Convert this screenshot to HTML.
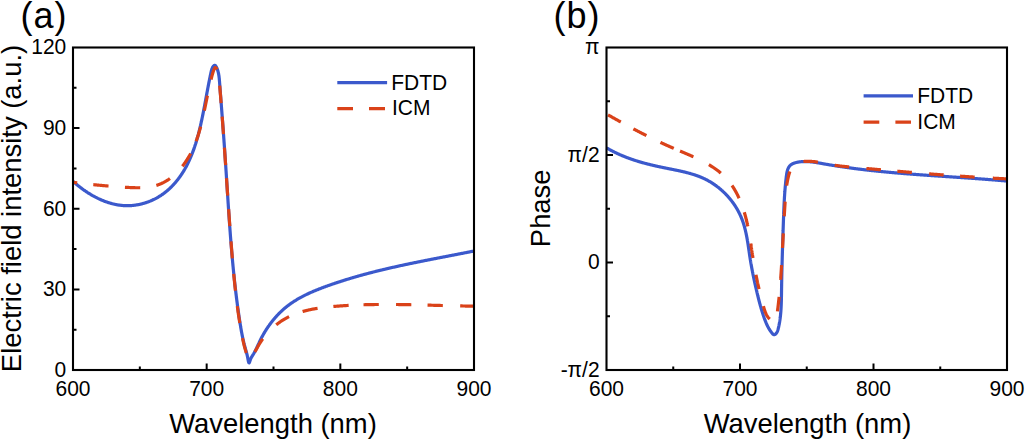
<!DOCTYPE html>
<html><head><meta charset="utf-8"><style>
html,body{margin:0;padding:0;background:#fff;}
svg{display:block;}
text{font-family:"Liberation Sans", sans-serif;fill:#000;}
.t{font-size:21px;}
.ti{font-size:27.4px;}
.pl{font-size:36px;}
.lg{font-size:21px;}
</style></head><body>
<svg width="1025" height="440" viewBox="0 0 1025 440">
<rect width="1025" height="440" fill="#fff"/>
<text x="20.5" y="28" class="pl" letter-spacing="1">(a)</text>
<g fill="none" stroke-linejoin="round">
<path d="M73.08 181.41 L73.47 181.76 L73.86 182.10 L74.26 182.45 L74.65 182.80 L75.05 183.14 L75.46 183.48 L75.86 183.83 L76.27 184.17 L76.68 184.51 L77.09 184.85 L77.50 185.18 L77.91 185.52 L78.33 185.85 L78.75 186.19 L79.17 186.52 L79.59 186.85 L80.02 187.18 L80.44 187.50 L80.87 187.83 L81.30 188.15 L81.74 188.48 L82.17 188.80 L82.61 189.11 L83.04 189.43 L83.48 189.75 L83.93 190.06 L84.37 190.37 L84.81 190.68 L85.26 190.99 L85.71 191.29 L86.16 191.59 L86.61 191.89 L87.07 192.19 L87.52 192.49 L87.98 192.78 L88.44 193.08 L88.90 193.37 L89.36 193.65 L89.83 193.94 L90.29 194.22 L90.76 194.50 L91.23 194.78 L91.70 195.05 L92.17 195.33 L92.64 195.60 L93.12 195.86 L93.60 196.13 L94.07 196.39 L94.55 196.65 L95.03 196.90 L95.51 197.16 L96.00 197.41 L96.48 197.65 L96.97 197.90 L97.46 198.14 L97.94 198.38 L98.43 198.61 L98.93 198.85 L99.42 199.08 L99.91 199.30 L100.41 199.52 L100.90 199.74 L101.40 199.96 L101.90 200.17 L102.40 200.38 L102.90 200.59 L103.40 200.79 L103.91 200.99 L104.41 201.19 L104.91 201.38 L105.42 201.57 L105.93 201.75 L106.44 201.93 L106.95 202.11 L107.46 202.28 L107.97 202.45 L108.48 202.62 L108.99 202.78 L109.51 202.94 L110.02 203.09 L110.54 203.24 L111.06 203.39 L111.57 203.53 L112.09 203.67 L112.61 203.80 L113.13 203.93 L113.65 204.06 L114.17 204.18 L114.70 204.29 L115.22 204.41 L115.74 204.51 L116.27 204.62 L116.79 204.72 L117.32 204.81 L117.85 204.90 L118.37 204.99 L118.90 205.07 L119.43 205.14 L119.96 205.21 L120.49 205.28 L121.02 205.34 L121.55 205.40 L122.08 205.45 L122.61 205.50 L123.15 205.54 L123.68 205.58 L124.21 205.61 L124.75 205.64 L125.28 205.66 L125.81 205.68 L126.35 205.69 L126.88 205.70 L127.42 205.70 L127.95 205.70 L128.49 205.69 L129.03 205.68 L129.56 205.66 L130.10 205.63 L130.64 205.60 L131.17 205.57 L131.71 205.53 L132.25 205.48 L132.78 205.43 L133.32 205.38 L133.85 205.32 L134.39 205.26 L134.93 205.19 L135.46 205.11 L135.99 205.03 L136.53 204.95 L137.06 204.86 L137.60 204.77 L138.13 204.67 L138.66 204.56 L139.19 204.45 L139.72 204.34 L140.25 204.22 L140.78 204.10 L141.31 203.97 L141.83 203.84 L142.36 203.71 L142.88 203.56 L143.41 203.42 L143.93 203.27 L144.45 203.11 L144.97 202.95 L145.49 202.79 L146.01 202.62 L146.52 202.45 L147.04 202.27 L147.55 202.09 L148.06 201.90 L148.57 201.71 L149.08 201.52 L149.58 201.32 L150.09 201.11 L150.59 200.91 L151.09 200.69 L151.59 200.48 L152.09 200.26 L152.58 200.03 L153.08 199.80 L153.57 199.57 L154.06 199.33 L154.54 199.09 L155.03 198.85 L155.51 198.60 L155.99 198.34 L156.47 198.09 L156.94 197.83 L157.42 197.56 L157.89 197.29 L158.35 197.02 L158.82 196.74 L159.28 196.46 L159.74 196.17 L160.20 195.88 L160.65 195.59 L161.10 195.30 L161.55 194.99 L161.99 194.69 L162.44 194.38 L162.88 194.07 L163.31 193.76 L163.75 193.44 L164.18 193.12 L164.61 192.79 L165.03 192.46 L165.46 192.13 L165.88 191.79 L166.29 191.46 L166.71 191.11 L167.12 190.77 L167.53 190.42 L167.93 190.07 L168.34 189.71 L168.74 189.35 L169.13 188.99 L169.53 188.63 L169.92 188.26 L170.31 187.89 L170.70 187.52 L171.08 187.14 L171.46 186.76 L171.84 186.38 L172.21 186.00 L172.59 185.61 L172.96 185.22 L173.32 184.83 L173.69 184.43 L174.05 184.03 L174.41 183.63 L174.76 183.23 L175.12 182.82 L175.47 182.42 L175.82 182.01 L176.16 181.59 L176.50 181.18 L176.84 180.76 L177.18 180.34 L177.51 179.92 L177.85 179.50 L178.17 179.07 L178.50 178.64 L178.82 178.21 L179.14 177.78 L179.46 177.35 L179.78 176.91 L180.09 176.47 L180.40 176.03 L180.71 175.59 L181.01 175.15 L181.31 174.70 L181.61 174.26 L181.91 173.81 L182.20 173.36 L182.49 172.91 L182.78 172.45 L183.06 172.00 L183.35 171.54 L183.63 171.08 L183.90 170.62 L184.18 170.16 L184.45 169.70 L184.72 169.23 L184.99 168.77 L185.25 168.30 L185.51 167.83 L185.77 167.36 L186.03 166.89 L186.29 166.42 L186.54 165.94 L186.79 165.47 L187.04 164.99 L187.28 164.51 L187.53 164.03 L187.77 163.55 L188.01 163.07 L188.24 162.59 L188.48 162.10 L188.71 161.62 L188.94 161.13 L189.16 160.64 L189.39 160.15 L189.61 159.66 L189.83 159.17 L190.05 158.68 L190.27 158.19 L190.48 157.69 L190.70 157.20 L190.91 156.70 L191.11 156.20 L191.32 155.70 L191.53 155.20 L191.73 154.70 L191.93 154.20 L192.13 153.70 L192.32 153.19 L192.52 152.69 L192.71 152.18 L192.90 151.68 L193.09 151.17 L193.28 150.66 L193.46 150.16 L193.65 149.65 L193.83 149.14 L194.01 148.62 L194.19 148.11 L194.36 147.60 L194.54 147.09 L194.71 146.57 L194.88 146.06 L195.05 145.54 L195.22 145.03 L195.39 144.51 L195.55 143.99 L195.72 143.48 L195.88 142.96 L196.04 142.44 L196.20 141.92 L196.36 141.40 L196.51 140.88 L196.67 140.36 L196.82 139.84 L196.97 139.32 L197.12 138.80 L197.27 138.27 L197.42 137.75 L197.56 137.23 L197.71 136.70 L197.85 136.18 L197.99 135.65 L198.14 135.13 L198.28 134.61 L198.41 134.08 L198.55 133.55 L198.69 133.03 L198.82 132.50 L198.96 131.98 L199.09 131.45 L199.22 130.92 L199.35 130.40 L199.48 129.87 L199.61 129.34 L199.73 128.82 L199.86 128.29 L199.99 127.76 L200.11 127.24 L200.23 126.71 L200.35 126.18 L200.48 125.66 L200.60 125.13 L200.72 124.60 L200.83 124.07 L200.95 123.55 L201.07 123.02 L201.18 122.49 L201.30 121.97 L201.41 121.44 L201.53 120.91 L201.64 120.39 L201.75 119.86 L201.86 119.34 L201.97 118.81 L202.08 118.29 L202.19 117.76 L202.30 117.24 L202.41 116.71 L202.52 116.19 L202.62 115.66 L202.73 115.14 L202.84 114.61 L202.94 114.09 L203.05 113.57 L203.15 113.04 L203.25 112.52 L203.36 111.99 L203.46 111.47 L203.56 110.95 L203.66 110.42 L203.77 109.90 L203.87 109.37 L203.97 108.85 L204.07 108.33 L204.17 107.80 L204.27 107.28 L204.37 106.76 L204.47 106.23 L204.57 105.71 L204.67 105.18 L204.76 104.66 L204.86 104.13 L204.96 103.61 L205.06 103.09 L205.16 102.56 L205.25 102.04 L205.35 101.51 L205.45 100.99 L205.55 100.46 L205.64 99.93 L205.74 99.41 L205.84 98.88 L205.94 98.36 L206.03 97.83 L206.13 97.30 L206.23 96.78 L206.33 96.25 L206.42 95.72 L206.52 95.19 L206.62 94.66 L206.72 94.14 L206.82 93.61 L206.91 93.08 L207.01 92.55 L207.11 92.02 L207.21 91.49 L207.31 90.96 L207.41 90.43 L207.51 89.89 L207.61 89.36 L207.71 88.83 L207.81 88.30 L207.91 87.76 L208.01 87.23 L208.11 86.70 L208.22 86.16 L208.32 85.63 L208.42 85.09 L208.53 84.55 L208.63 84.02 L208.73 83.48 L208.84 82.94 L208.94 82.40 L209.05 81.86 L209.16 81.32 L209.26 80.78 L209.37 80.24 L209.48 79.70 L209.59 79.16 L209.70 78.62 L209.81 78.07 L209.92 77.53 L210.03 76.98 L210.15 76.44 L210.26 75.89 L210.37 75.35 L210.49 74.80 L210.61 74.25 L210.72 73.70 L210.84 73.15 L210.96 72.60 L211.08 72.05 L211.20 71.50 L211.34 70.95 L211.48 70.41 L211.63 69.88 L211.80 69.35 L211.98 68.83 L212.18 68.33 L212.40 67.83 L212.65 67.35 L212.91 66.88 L213.20 66.45 L213.51 66.06 L213.82 65.74 L214.14 65.50 L214.46 65.35 L214.78 65.32 L215.09 65.42 L215.38 65.63 L215.67 65.94 L215.94 66.32 L216.21 66.75 L216.45 67.23 L216.69 67.72 L216.91 68.22 L217.12 68.72 L217.32 69.23 L217.50 69.74 L217.68 70.25 L217.84 70.76 L217.99 71.28 L218.13 71.80 L218.26 72.32 L218.39 72.85 L218.50 73.37 L218.60 73.90 L218.70 74.43 L218.79 74.96 L218.88 75.49 L218.95 76.03 L219.03 76.56 L219.09 77.10 L219.15 77.64 L219.21 78.18 L219.27 78.72 L219.32 79.26 L219.37 79.80 L219.41 80.34 L219.46 80.88 L219.50 81.43 L219.54 81.97 L219.58 82.51 L219.63 83.05 L219.67 83.59 L219.71 84.14 L219.75 84.68 L219.79 85.22 L219.84 85.76 L219.88 86.30 L219.92 86.85 L219.96 87.39 L220.00 87.93 L220.04 88.47 L220.09 89.01 L220.13 89.55 L220.17 90.09 L220.21 90.64 L220.25 91.18 L220.30 91.72 L220.34 92.26 L220.38 92.80 L220.42 93.34 L220.46 93.88 L220.50 94.42 L220.55 94.96 L220.59 95.50 L220.63 96.04 L220.67 96.58 L220.71 97.12 L220.76 97.67 L220.80 98.21 L220.84 98.75 L220.88 99.29 L220.92 99.83 L220.96 100.37 L221.00 100.91 L221.05 101.45 L221.09 101.99 L221.13 102.53 L221.17 103.07 L221.21 103.61 L221.25 104.14 L221.29 104.68 L221.34 105.22 L221.38 105.76 L221.42 106.30 L221.46 106.84 L221.50 107.38 L221.54 107.92 L221.58 108.46 L221.62 109.00 L221.67 109.54 L221.71 110.08 L221.75 110.62 L221.79 111.16 L221.83 111.69 L221.87 112.23 L221.91 112.77 L221.95 113.31 L221.99 113.85 L222.03 114.39 L222.07 114.93 L222.12 115.47 L222.16 116.00 L222.20 116.54 L222.24 117.08 L222.28 117.62 L222.32 118.16 L222.36 118.70 L222.40 119.24 L222.44 119.77 L222.48 120.31 L222.52 120.85 L222.56 121.39 L222.60 121.93 L222.64 122.47 L222.68 123.00 L222.72 123.54 L222.76 124.08 L222.80 124.62 L222.84 125.16 L222.88 125.69 L222.92 126.23 L222.96 126.77 L223.00 127.31 L223.04 127.85 L223.08 128.38 L223.12 128.92 L223.16 129.46 L223.20 130.00 L223.24 130.54 L223.28 131.07 L223.32 131.61 L223.36 132.15 L223.40 132.69 L223.44 133.22 L223.48 133.76 L223.52 134.30 L223.56 134.84 L223.60 135.37 L223.63 135.91 L223.67 136.45 L223.71 136.99 L223.75 137.53 L223.79 138.06 L223.83 138.60 L223.87 139.14 L223.91 139.68 L223.95 140.21 L223.98 140.75 L224.02 141.29 L224.06 141.83 L224.10 142.36 L224.14 142.90 L224.18 143.44 L224.21 143.98 L224.25 144.51 L224.29 145.05 L224.33 145.59 L224.37 146.13 L224.41 146.66 L224.44 147.20 L224.48 147.74 L224.52 148.28 L224.56 148.81 L224.59 149.35 L224.63 149.89 L224.67 150.43 L224.71 150.96 L224.74 151.50 L224.78 152.04 L224.82 152.58 L224.86 153.11 L224.89 153.65 L224.93 154.19 L224.97 154.73 L225.01 155.26 L225.04 155.80 L225.08 156.34 L225.12 156.88 L225.15 157.41 L225.19 157.95 L225.23 158.49 L225.26 159.03 L225.30 159.56 L225.34 160.10 L225.37 160.64 L225.41 161.18 L225.44 161.71 L225.48 162.25 L225.52 162.79 L225.55 163.33 L225.59 163.86 L225.62 164.40 L225.66 164.94 L225.70 165.48 L225.73 166.02 L225.77 166.55 L225.80 167.09 L225.84 167.63 L225.87 168.17 L225.91 168.71 L225.94 169.24 L225.98 169.78 L226.02 170.32 L226.05 170.86 L226.09 171.39 L226.12 171.93 L226.16 172.47 L226.19 173.01 L226.23 173.55 L226.26 174.08 L226.30 174.62 L226.33 175.16 L226.37 175.70 L226.40 176.24 L226.44 176.77 L226.47 177.31 L226.51 177.85 L226.54 178.39 L226.58 178.93 L226.61 179.46 L226.64 180.00 L226.68 180.54 L226.71 181.08 L226.75 181.62 L226.78 182.16 L226.82 182.69 L226.85 183.23 L226.89 183.77 L226.92 184.31 L226.96 184.85 L226.99 185.38 L227.03 185.92 L227.06 186.46 L227.10 187.00 L227.13 187.54 L227.17 188.07 L227.20 188.61 L227.23 189.15 L227.27 189.69 L227.30 190.23 L227.34 190.77 L227.37 191.30 L227.41 191.84 L227.44 192.38 L227.48 192.92 L227.51 193.46 L227.55 194.00 L227.58 194.53 L227.62 195.07 L227.65 195.61 L227.69 196.15 L227.72 196.69 L227.76 197.23 L227.79 197.76 L227.83 198.30 L227.86 198.84 L227.90 199.38 L227.93 199.92 L227.97 200.45 L228.00 200.99 L228.04 201.53 L228.07 202.07 L228.11 202.61 L228.14 203.15 L228.18 203.68 L228.22 204.22 L228.25 204.76 L228.29 205.30 L228.32 205.84 L228.36 206.38 L228.39 206.91 L228.43 207.45 L228.47 207.99 L228.50 208.53 L228.54 209.07 L228.57 209.61 L228.61 210.14 L228.65 210.68 L228.68 211.22 L228.72 211.76 L228.76 212.30 L228.79 212.84 L228.83 213.37 L228.87 213.91 L228.90 214.45 L228.94 214.99 L228.98 215.53 L229.01 216.07 L229.05 216.60 L229.09 217.14 L229.13 217.68 L229.16 218.22 L229.20 218.76 L229.24 219.30 L229.28 219.83 L229.31 220.37 L229.35 220.91 L229.39 221.45 L229.43 221.99 L229.46 222.52 L229.50 223.06 L229.54 223.60 L229.58 224.14 L229.62 224.68 L229.66 225.22 L229.70 225.75 L229.73 226.29 L229.77 226.83 L229.81 227.37 L229.85 227.91 L229.89 228.45 L229.93 228.98 L229.97 229.52 L230.01 230.06 L230.05 230.60 L230.09 231.14 L230.13 231.67 L230.17 232.21 L230.21 232.75 L230.25 233.29 L230.29 233.83 L230.33 234.36 L230.37 234.90 L230.41 235.44 L230.46 235.98 L230.50 236.52 L230.54 237.06 L230.58 237.59 L230.62 238.13 L230.66 238.67 L230.70 239.21 L230.75 239.75 L230.79 240.28 L230.83 240.82 L230.87 241.36 L230.92 241.90 L230.96 242.44 L231.00 242.97 L231.05 243.51 L231.09 244.05 L231.13 244.59 L231.18 245.12 L231.22 245.66 L231.26 246.20 L231.31 246.74 L231.35 247.28 L231.40 247.81 L231.44 248.35 L231.49 248.89 L231.53 249.43 L231.58 249.97 L231.62 250.50 L231.67 251.04 L231.71 251.58 L231.76 252.12 L231.81 252.65 L231.85 253.19 L231.90 253.73 L231.95 254.27 L231.99 254.80 L232.04 255.34 L232.09 255.88 L232.13 256.42 L232.18 256.96 L232.23 257.49 L232.28 258.03 L232.33 258.57 L232.37 259.11 L232.42 259.64 L232.47 260.18 L232.52 260.72 L232.57 261.26 L232.62 261.79 L232.67 262.33 L232.72 262.87 L232.77 263.41 L232.82 263.94 L232.87 264.48 L232.92 265.02 L232.97 265.55 L233.02 266.09 L233.07 266.63 L233.13 267.17 L233.18 267.70 L233.23 268.24 L233.28 268.78 L233.34 269.32 L233.39 269.85 L233.44 270.39 L233.49 270.93 L233.55 271.46 L233.60 272.00 L233.66 272.54 L233.71 273.08 L233.76 273.61 L233.82 274.15 L233.87 274.69 L233.93 275.22 L233.98 275.76 L234.04 276.30 L234.10 276.83 L234.15 277.37 L234.21 277.91 L234.27 278.44 L234.32 278.98 L234.38 279.52 L234.44 280.06 L234.49 280.59 L234.55 281.13 L234.61 281.67 L234.67 282.20 L234.73 282.74 L234.79 283.28 L234.85 283.81 L234.91 284.35 L234.97 284.88 L235.03 285.42 L235.09 285.96 L235.15 286.49 L235.21 287.03 L235.27 287.57 L235.33 288.10 L235.39 288.64 L235.46 289.18 L235.52 289.71 L235.58 290.25 L235.64 290.79 L235.71 291.32 L235.77 291.86 L235.83 292.39 L235.90 292.93 L235.96 293.47 L236.03 294.00 L236.09 294.54 L236.16 295.07 L236.22 295.61 L236.29 296.15 L236.36 296.68 L236.42 297.22 L236.49 297.75 L236.56 298.29 L236.62 298.83 L236.69 299.36 L236.76 299.90 L236.83 300.43 L236.90 300.97 L236.97 301.51 L237.04 302.04 L237.11 302.58 L237.18 303.11 L237.25 303.65 L237.32 304.18 L237.39 304.72 L237.46 305.25 L237.53 305.79 L237.60 306.33 L237.67 306.86 L237.75 307.40 L237.82 307.93 L237.89 308.47 L237.97 309.00 L238.04 309.54 L238.12 310.07 L238.19 310.61 L238.27 311.14 L238.34 311.68 L238.42 312.21 L238.49 312.75 L238.57 313.28 L238.65 313.82 L238.72 314.35 L238.80 314.89 L238.88 315.42 L238.96 315.96 L239.04 316.49 L239.11 317.03 L239.19 317.56 L239.27 318.10 L239.35 318.63 L239.43 319.17 L239.52 319.70 L239.60 320.24 L239.68 320.77 L239.76 321.30 L239.84 321.84 L239.93 322.37 L240.01 322.91 L240.09 323.44 L240.18 323.97 L240.27 324.51 L240.35 325.04 L240.44 325.57 L240.53 326.11 L240.62 326.64 L240.70 327.17 L240.80 327.70 L240.89 328.23 L240.98 328.76 L241.07 329.29 L241.16 329.82 L241.26 330.35 L241.35 330.88 L241.45 331.41 L241.55 331.94 L241.65 332.47 L241.75 333.00 L241.85 333.53 L241.95 334.05 L242.05 334.58 L242.16 335.10 L242.26 335.63 L242.37 336.15 L242.47 336.68 L242.58 337.20 L242.69 337.72 L242.80 338.25 L242.92 338.77 L243.03 339.29 L243.15 339.81 L243.26 340.33 L243.38 340.85 L243.50 341.37 L243.62 341.88 L243.75 342.40 L243.87 342.92 L244.00 343.43 L244.13 343.95 L244.25 344.46 L244.39 344.97 L244.52 345.48 L244.65 345.99 L244.79 346.50 L244.93 347.01 L245.07 347.52 L245.21 348.03 L245.35 348.54 L245.50 349.04 L245.64 349.55 L245.79 350.06 L245.94 350.57 L246.09 351.08 L246.24 351.61 L246.38 352.14 L246.53 352.68 L246.68 353.23 L246.83 353.80 L246.97 354.38 L247.11 354.97 L247.25 355.58 L247.39 356.22 L247.53 356.87 L247.66 357.54 L247.79 358.21 L247.91 358.89 L248.04 359.55 L248.16 360.18 L248.28 360.78 L248.41 361.32 L248.53 361.80 L248.65 362.21 L248.77 362.54 L248.89 362.76 L249.01 362.88 L249.14 362.88 L249.26 362.75 L249.40 362.50 L249.53 362.16 L249.68 361.74 L249.84 361.25 L250.01 360.72 L250.20 360.15 L250.40 359.56 L250.62 358.98 L250.87 358.41 L251.14 357.87 L251.42 357.35 L251.72 356.85 L252.03 356.36 L252.34 355.88 L252.64 355.41 L252.95 354.93 L253.24 354.46 L253.53 353.99 L253.81 353.51 L254.09 353.03 L254.36 352.55 L254.62 352.07 L254.88 351.59 L255.13 351.11 L255.38 350.63 L255.62 350.14 L255.86 349.66 L256.10 349.17 L256.33 348.69 L256.56 348.20 L256.79 347.72 L257.01 347.23 L257.23 346.74 L257.46 346.26 L257.68 345.77 L257.90 345.28 L258.12 344.80 L258.34 344.31 L258.56 343.83 L258.78 343.34 L259.01 342.86 L259.23 342.37 L259.46 341.89 L259.69 341.41 L259.92 340.92 L260.16 340.44 L260.40 339.96 L260.64 339.48 L260.88 339.00 L261.12 338.53 L261.37 338.05 L261.62 337.57 L261.87 337.10 L262.13 336.62 L262.38 336.15 L262.64 335.68 L262.90 335.21 L263.17 334.74 L263.44 334.27 L263.70 333.80 L263.98 333.33 L264.25 332.87 L264.53 332.41 L264.81 331.94 L265.09 331.48 L265.37 331.02 L265.66 330.56 L265.94 330.10 L266.23 329.65 L266.53 329.19 L266.82 328.74 L267.12 328.29 L267.42 327.84 L267.72 327.39 L268.03 326.94 L268.34 326.49 L268.64 326.05 L268.96 325.61 L269.27 325.16 L269.59 324.72 L269.90 324.29 L270.23 323.85 L270.55 323.42 L270.87 322.98 L271.20 322.55 L271.53 322.12 L271.86 321.70 L272.20 321.27 L272.54 320.85 L272.88 320.43 L273.22 320.01 L273.56 319.59 L273.91 319.17 L274.25 318.76 L274.60 318.35 L274.96 317.94 L275.31 317.53 L275.67 317.12 L276.03 316.72 L276.39 316.32 L276.75 315.92 L277.12 315.52 L277.49 315.13 L277.86 314.74 L278.23 314.35 L278.60 313.96 L278.98 313.58 L279.36 313.19 L279.74 312.81 L280.12 312.43 L280.51 312.06 L280.90 311.69 L281.29 311.31 L281.68 310.95 L282.07 310.58 L282.47 310.22 L282.87 309.86 L283.27 309.50 L283.67 309.15 L284.07 308.79 L284.48 308.44 L284.89 308.10 L285.30 307.75 L285.71 307.41 L286.13 307.07 L286.54 306.74 L286.96 306.41 L287.38 306.08 L287.81 305.75 L288.23 305.42 L288.66 305.10 L289.09 304.78 L289.52 304.47 L289.95 304.15 L290.39 303.84 L290.82 303.53 L291.26 303.23 L291.70 302.92 L292.14 302.62 L292.59 302.33 L293.03 302.03 L293.48 301.74 L293.93 301.44 L294.38 301.16 L294.83 300.87 L295.29 300.59 L295.74 300.30 L296.20 300.03 L296.66 299.75 L297.12 299.47 L297.58 299.20 L298.04 298.93 L298.51 298.66 L298.97 298.40 L299.44 298.13 L299.91 297.87 L300.38 297.61 L300.85 297.35 L301.32 297.10 L301.80 296.85 L302.27 296.59 L302.75 296.34 L303.23 296.10 L303.71 295.85 L304.19 295.61 L304.67 295.37 L305.15 295.13 L305.64 294.89 L306.12 294.65 L306.61 294.42 L307.09 294.18 L307.58 293.95 L308.07 293.72 L308.56 293.49 L309.05 293.27 L309.55 293.04 L310.04 292.82 L310.53 292.60 L311.03 292.38 L311.52 292.16 L312.02 291.94 L312.52 291.73 L313.01 291.51 L313.51 291.30 L314.01 291.09 L314.51 290.88 L315.02 290.67 L315.52 290.46 L316.02 290.25 L316.52 290.05 L317.03 289.85 L317.53 289.64 L318.04 289.44 L318.54 289.24 L319.05 289.04 L319.55 288.84 L320.06 288.65 L320.57 288.45 L321.08 288.26 L321.58 288.06 L322.09 287.87 L322.60 287.68 L323.11 287.49 L323.62 287.30 L324.13 287.11 L324.64 286.92 L325.15 286.73 L325.66 286.55 L326.17 286.36 L326.68 286.18 L327.19 285.99 L327.71 285.81 L328.22 285.62 L328.73 285.44 L329.24 285.26 L329.75 285.08 L330.26 284.90 L330.78 284.72 L331.29 284.54 L331.80 284.36 L332.31 284.19 L332.83 284.01 L333.34 283.83 L333.85 283.66 L334.37 283.48 L334.88 283.31 L335.39 283.14 L335.91 282.96 L336.42 282.79 L336.93 282.62 L337.45 282.45 L337.96 282.28 L338.48 282.11 L338.99 281.94 L339.50 281.77 L340.02 281.61 L340.53 281.44 L341.05 281.27 L341.56 281.11 L342.08 280.94 L342.59 280.78 L343.11 280.62 L343.62 280.45 L344.14 280.29 L344.66 280.13 L345.17 279.97 L345.69 279.81 L346.20 279.65 L346.72 279.49 L347.24 279.33 L347.75 279.17 L348.27 279.01 L348.79 278.86 L349.30 278.70 L349.82 278.54 L350.34 278.39 L350.85 278.23 L351.37 278.08 L351.89 277.93 L352.40 277.77 L352.92 277.62 L353.44 277.47 L353.96 277.32 L354.48 277.17 L354.99 277.02 L355.51 276.87 L356.03 276.72 L356.55 276.57 L357.07 276.42 L357.59 276.27 L358.10 276.12 L358.62 275.98 L359.14 275.83 L359.66 275.69 L360.18 275.54 L360.70 275.40 L361.22 275.25 L361.74 275.11 L362.26 274.97 L362.78 274.82 L363.30 274.68 L363.82 274.54 L364.34 274.40 L364.86 274.26 L365.38 274.12 L365.90 273.98 L366.42 273.84 L366.94 273.70 L367.46 273.56 L367.98 273.43 L368.50 273.29 L369.02 273.15 L369.54 273.02 L370.06 272.88 L370.59 272.74 L371.11 272.61 L371.63 272.48 L372.15 272.34 L372.67 272.21 L373.19 272.07 L373.72 271.94 L374.24 271.81 L374.76 271.68 L375.28 271.55 L375.80 271.42 L376.33 271.29 L376.85 271.15 L377.37 271.03 L377.89 270.90 L378.42 270.77 L378.94 270.64 L379.46 270.51 L379.98 270.38 L380.51 270.26 L381.03 270.13 L381.55 270.00 L382.08 269.88 L382.60 269.75 L383.12 269.62 L383.65 269.50 L384.17 269.37 L384.69 269.25 L385.22 269.13 L385.74 269.00 L386.27 268.88 L386.79 268.76 L387.31 268.63 L387.84 268.51 L388.36 268.39 L388.89 268.27 L389.41 268.15 L389.94 268.03 L390.46 267.91 L390.99 267.79 L391.51 267.67 L392.04 267.55 L392.56 267.43 L393.09 267.31 L393.61 267.19 L394.14 267.07 L394.66 266.96 L395.19 266.84 L395.71 266.72 L396.24 266.60 L396.76 266.49 L397.29 266.37 L397.81 266.25 L398.34 266.14 L398.87 266.02 L399.39 265.91 L399.92 265.79 L400.44 265.68 L400.97 265.56 L401.50 265.45 L402.02 265.34 L402.55 265.22 L403.08 265.11 L403.60 265.00 L404.13 264.88 L404.65 264.77 L405.18 264.66 L405.71 264.55 L406.23 264.43 L406.76 264.32 L407.29 264.21 L407.82 264.10 L408.34 263.99 L408.87 263.88 L409.40 263.77 L409.92 263.66 L410.45 263.55 L410.98 263.44 L411.51 263.33 L412.03 263.22 L412.56 263.11 L413.09 263.00 L413.62 262.89 L414.14 262.78 L414.67 262.68 L415.20 262.57 L415.73 262.46 L416.26 262.35 L416.78 262.24 L417.31 262.14 L417.84 262.03 L418.37 261.92 L418.90 261.82 L419.43 261.71 L419.95 261.60 L420.48 261.50 L421.01 261.39 L421.54 261.28 L422.07 261.18 L422.60 261.07 L423.12 260.97 L423.65 260.86 L424.18 260.75 L424.71 260.65 L425.24 260.54 L425.77 260.44 L426.30 260.33 L426.83 260.23 L427.36 260.13 L427.88 260.02 L428.41 259.92 L428.94 259.81 L429.47 259.71 L430.00 259.60 L430.53 259.50 L431.06 259.40 L431.59 259.29 L432.12 259.19 L432.65 259.08 L433.18 258.98 L433.71 258.88 L434.24 258.77 L434.77 258.67 L435.30 258.57 L435.83 258.46 L436.36 258.36 L436.89 258.26 L437.42 258.15 L437.95 258.05 L438.48 257.95 L439.01 257.85 L439.54 257.74 L440.07 257.64 L440.60 257.54 L441.13 257.43 L441.66 257.33 L442.19 257.23 L442.72 257.13 L443.25 257.02 L443.78 256.92 L444.31 256.82 L444.84 256.72 L445.37 256.61 L445.90 256.51 L446.43 256.41 L446.96 256.31 L447.49 256.20 L448.02 256.10 L448.55 256.00 L449.08 255.90 L449.61 255.79 L450.14 255.69 L450.67 255.59 L451.20 255.49 L451.73 255.38 L452.26 255.28 L452.79 255.18 L453.32 255.08 L453.86 254.97 L454.39 254.87 L454.92 254.77 L455.45 254.66 L455.98 254.56 L456.51 254.46 L457.04 254.35 L457.57 254.25 L458.10 254.15 L458.63 254.05 L459.16 253.94 L459.69 253.84 L460.23 253.74 L460.76 253.63 L461.29 253.53 L461.82 253.42 L462.35 253.32 L462.88 253.22 L463.41 253.11 L463.94 253.01 L464.47 252.90 L465.00 252.80 L465.54 252.70 L466.07 252.59 L466.60 252.49 L467.13 252.38 L467.66 252.28 L468.19 252.17 L468.72 252.07 L469.25 251.96 L469.79 251.86 L470.32 251.75 L470.85 251.65 L471.38 251.54 L471.91 251.43 L472.44 251.33 L472.97 251.22 L473.50 251.12 L474.03 251.01" stroke="#3b59cc" stroke-width="3.2"/>
<path d="M72.86 182.27 L73.39 182.33 L73.91 182.40 L74.44 182.47 L74.96 182.53 L75.49 182.60 L76.01 182.66 L76.53 182.73 L77.05 182.79 L77.57 182.86 L78.09 182.92 L78.61 182.98 L79.13 183.05 L79.64 183.11 L80.16 183.17 L80.67 183.23 L81.18 183.29 L81.70 183.35 L82.21 183.41 L82.72 183.47 L83.23 183.53 L83.74 183.59 L84.24 183.65 L84.75 183.71 L85.26 183.77 L85.77 183.82 L86.27 183.88 L86.78 183.94 L87.28 183.99 L87.78 184.05 L88.29 184.11 L88.79 184.16 L89.29 184.22 L89.79 184.27 L90.30 184.32 L90.80 184.38 L91.30 184.43 L91.80 184.48 L92.30 184.54 L92.80 184.59 L93.30 184.64 L93.79 184.69 L94.29 184.74 L94.79 184.79 L95.29 184.84 L95.78 184.89 L96.28 184.94 L96.78 184.99 L97.28 185.04 L97.77 185.09 L98.27 185.14 L98.77 185.18 L99.26 185.23 L99.76 185.28 L100.25 185.33 L100.75 185.37 L101.25 185.42 L101.74 185.46 L102.24 185.51 L102.73 185.56 L103.23 185.60 L103.73 185.64 L104.22 185.69 L104.72 185.73 L105.22 185.78 L105.71 185.82 L106.21 185.86 L106.71 185.91 L107.21 185.95 L107.70 185.99 L108.20 186.03 L108.70 186.07 L109.20 186.11 L109.70 186.15 L110.20 186.19 L110.70 186.23 L111.20 186.27 L111.70 186.31 L112.20 186.35 L112.70 186.39 L113.20 186.43 L113.70 186.47 L114.21 186.51 L114.71 186.55 L115.22 186.58 L115.72 186.62 L116.23 186.66 L116.73 186.69 L117.24 186.73 L117.75 186.77 L118.25 186.80 L118.76 186.84 L119.27 186.87 L119.78 186.91 L120.29 186.94 L120.81 186.98 L121.32 187.01 L121.83 187.05 L122.35 187.08 L122.86 187.12 L123.38 187.15 L123.89 187.18 L124.41 187.22 L124.93 187.25 L125.45 187.28 L125.97 187.31 L126.49 187.34 L127.02 187.38 L127.54 187.41 L128.06 187.44 L128.59 187.46 L129.11 187.49 L129.64 187.52 L130.17 187.55 L130.69 187.57 L131.22 187.59 L131.75 187.62 L132.27 187.64 L132.80 187.66 L133.33 187.67 L133.86 187.69 L134.39 187.71 L134.91 187.72 L135.44 187.73 L135.97 187.74 L136.50 187.74 L137.02 187.75 L137.55 187.75 L138.08 187.75 L138.61 187.75 L139.13 187.74 L139.66 187.73 L140.18 187.72 L140.71 187.71 L141.23 187.69 L141.75 187.67 L142.28 187.65 L142.80 187.62 L143.32 187.60 L143.84 187.56 L144.36 187.53 L144.87 187.49 L145.39 187.45 L145.91 187.40 L146.42 187.35 L146.93 187.30 L147.45 187.24 L147.96 187.18 L148.47 187.11 L148.97 187.04 L149.48 186.96 L149.98 186.89 L150.49 186.80 L150.99 186.71 L151.49 186.62 L151.99 186.52 L152.48 186.42 L152.98 186.31 L153.47 186.20 L153.96 186.09 L154.45 185.96 L154.93 185.84 L155.42 185.70 L155.90 185.56 L156.38 185.42 L156.86 185.27 L157.33 185.12 L157.80 184.96 L158.27 184.79 L158.74 184.62 L159.21 184.44 L159.67 184.26 L160.13 184.07 L160.59 183.88 L161.05 183.68 L161.50 183.48 L161.95 183.27 L162.40 183.06 L162.85 182.84 L163.29 182.61 L163.73 182.39 L164.17 182.15 L164.61 181.92 L165.04 181.67 L165.48 181.43 L165.91 181.17 L166.33 180.92 L166.76 180.66 L167.18 180.39 L167.60 180.12 L168.02 179.85 L168.43 179.57 L168.85 179.29 L169.26 179.00 L169.66 178.71 L170.07 178.41 L170.47 178.12 L170.87 177.81 L171.27 177.50 L171.67 177.19 L172.06 176.88 L172.45 176.56 L172.84 176.24 L173.23 175.91 L173.61 175.58 L173.99 175.25 L174.37 174.91 L174.74 174.57 L175.12 174.23 L175.49 173.88 L175.86 173.53 L176.22 173.17 L176.58 172.82 L176.94 172.45 L177.30 172.09 L177.66 171.72 L178.01 171.35 L178.36 170.98 L178.71 170.61 L179.05 170.23 L179.40 169.84 L179.74 169.46 L180.08 169.07 L180.41 168.68 L180.74 168.29 L181.07 167.90 L181.40 167.50 L181.72 167.10 L182.05 166.70 L182.37 166.29 L182.68 165.88 L183.00 165.47 L183.31 165.06 L183.62 164.65 L183.92 164.23 L184.23 163.81 L184.53 163.39 L184.83 162.97 L185.12 162.55 L185.42 162.12 L185.71 161.69 L186.00 161.26 L186.28 160.83 L186.56 160.40 L186.84 159.96 L187.12 159.53 L187.40 159.09 L187.67 158.65 L187.94 158.21 L188.20 157.77 L188.47 157.32 L188.73 156.88 L188.99 156.43 L189.24 155.98 L189.50 155.54 L189.75 155.09 L189.99 154.64 L190.24 154.19 L190.48 153.73 L190.72 153.28 L190.96 152.83 L191.19 152.37 L191.42 151.92 L191.65 151.46 L191.88 151.00 L192.10 150.54 L192.32 150.08 L192.54 149.62 L192.76 149.16 L192.97 148.70 L193.18 148.24 L193.39 147.77 L193.60 147.31 L193.81 146.84 L194.01 146.38 L194.21 145.91 L194.41 145.44 L194.60 144.97 L194.79 144.50 L194.99 144.03 L195.18 143.56 L195.36 143.09 L195.55 142.62 L195.73 142.15 L195.91 141.67 L196.09 141.20 L196.27 140.72 L196.44 140.25 L196.61 139.77 L196.79 139.29 L196.95 138.82 L197.12 138.34 L197.29 137.86 L197.45 137.38 L197.61 136.90 L197.77 136.42 L197.93 135.94 L198.09 135.45 L198.24 134.97 L198.40 134.49 L198.55 134.00 L198.70 133.52 L198.85 133.03 L198.99 132.55 L199.14 132.06 L199.28 131.58 L199.43 131.09 L199.57 130.60 L199.71 130.11 L199.85 129.62 L199.98 129.14 L200.12 128.65 L200.25 128.16 L200.39 127.67 L200.52 127.17 L200.65 126.68 L200.78 126.19 L200.91 125.70 L201.03 125.21 L201.16 124.71 L201.28 124.22 L201.41 123.73 L201.53 123.23 L201.65 122.74 L201.77 122.24 L201.89 121.75 L202.01 121.25 L202.13 120.75 L202.25 120.26 L202.36 119.76 L202.48 119.26 L202.59 118.77 L202.71 118.27 L202.82 117.77 L202.93 117.27 L203.04 116.77 L203.15 116.28 L203.26 115.78 L203.37 115.28 L203.48 114.78 L203.59 114.28 L203.70 113.78 L203.80 113.28 L203.91 112.78 L204.02 112.28 L204.12 111.78 L204.23 111.28 L204.33 110.77 L204.44 110.27 L204.54 109.77 L204.65 109.27 L204.75 108.77 L204.85 108.27 L204.96 107.77 L205.06 107.26 L205.16 106.76 L205.26 106.26 L205.37 105.76 L205.47 105.26 L205.57 104.75 L205.67 104.25 L205.77 103.75 L205.88 103.25 L205.98 102.74 L206.08 102.24 L206.18 101.74 L206.28 101.24 L206.39 100.73 L206.49 100.23 L206.59 99.73 L206.69 99.23 L206.80 98.73 L206.90 98.22 L207.00 97.72 L207.11 97.22 L207.21 96.72 L207.31 96.22 L207.42 95.72 L207.52 95.22 L207.62 94.72 L207.73 94.22 L207.83 93.72 L207.94 93.22 L208.04 92.72 L208.15 92.22 L208.25 91.73 L208.36 91.23 L208.47 90.73 L208.57 90.24 L208.68 89.74 L208.79 89.25 L208.90 88.75 L209.00 88.26 L209.11 87.77 L209.22 87.27 L209.33 86.78 L209.44 86.29 L209.55 85.80 L209.66 85.31 L209.78 84.82 L209.89 84.33 L210.00 83.85 L210.11 83.36 L210.23 82.87 L210.34 82.39 L210.46 81.91 L210.57 81.42 L210.69 80.94 L210.80 80.46 L210.92 79.98 L211.04 79.50 L211.16 79.02 L211.28 78.55 L211.40 78.07 L211.52 77.59 L211.64 77.11 L211.77 76.63 L211.90 76.13 L212.04 75.63 L212.18 75.12 L212.33 74.60 L212.48 74.06 L212.64 73.51 L212.81 72.95 L213.00 72.36 L213.19 71.75 L213.38 71.14 L213.59 70.54 L213.81 69.96 L214.03 69.41 L214.26 68.91 L214.50 68.47 L214.74 68.11 L214.98 67.84 L215.23 67.67 L215.48 67.62 L215.73 67.70 L215.98 67.90 L216.23 68.19 L216.47 68.58 L216.72 69.04 L216.95 69.56 L217.18 70.12 L217.39 70.72 L217.60 71.32 L217.79 71.93 L217.96 72.52 L218.12 73.11 L218.27 73.67 L218.41 74.23 L218.53 74.78 L218.64 75.31 L218.74 75.84 L218.83 76.36 L218.91 76.87 L218.99 77.37 L219.05 77.87 L219.11 78.36 L219.16 78.85 L219.21 79.33 L219.26 79.81 L219.30 80.29 L219.34 80.77 L219.37 81.24 L219.41 81.72 L219.44 82.20 L219.47 82.68 L219.51 83.16 L219.55 83.65 L219.58 84.14 L219.62 84.63 L219.66 85.12 L219.69 85.61 L219.73 86.11 L219.77 86.60 L219.81 87.10 L219.85 87.60 L219.89 88.10 L219.93 88.61 L219.97 89.11 L220.02 89.61 L220.06 90.12 L220.10 90.63 L220.14 91.13 L220.18 91.64 L220.22 92.15 L220.27 92.66 L220.31 93.17 L220.35 93.68 L220.39 94.19 L220.44 94.70 L220.48 95.21 L220.52 95.72 L220.56 96.23 L220.60 96.74 L220.65 97.25 L220.69 97.76 L220.73 98.27 L220.77 98.78 L220.81 99.29 L220.85 99.80 L220.89 100.31 L220.93 100.83 L220.98 101.34 L221.02 101.85 L221.06 102.36 L221.10 102.87 L221.14 103.38 L221.18 103.89 L221.22 104.40 L221.26 104.91 L221.30 105.42 L221.34 105.93 L221.38 106.44 L221.42 106.95 L221.46 107.45 L221.50 107.96 L221.54 108.47 L221.58 108.98 L221.62 109.49 L221.66 110.00 L221.70 110.51 L221.74 111.02 L221.78 111.53 L221.82 112.04 L221.86 112.55 L221.89 113.06 L221.93 113.57 L221.97 114.08 L222.01 114.59 L222.05 115.10 L222.09 115.61 L222.13 116.12 L222.17 116.63 L222.20 117.14 L222.24 117.65 L222.28 118.16 L222.32 118.67 L222.36 119.18 L222.40 119.68 L222.43 120.19 L222.47 120.70 L222.51 121.21 L222.55 121.72 L222.59 122.23 L222.62 122.74 L222.66 123.25 L222.70 123.76 L222.74 124.27 L222.77 124.78 L222.81 125.29 L222.85 125.80 L222.89 126.30 L222.92 126.81 L222.96 127.32 L223.00 127.83 L223.03 128.34 L223.07 128.85 L223.11 129.36 L223.15 129.87 L223.18 130.38 L223.22 130.89 L223.26 131.39 L223.29 131.90 L223.33 132.41 L223.37 132.92 L223.40 133.43 L223.44 133.94 L223.48 134.45 L223.51 134.96 L223.55 135.47 L223.58 135.97 L223.62 136.48 L223.66 136.99 L223.69 137.50 L223.73 138.01 L223.77 138.52 L223.80 139.03 L223.84 139.54 L223.87 140.04 L223.91 140.55 L223.95 141.06 L223.98 141.57 L224.02 142.08 L224.05 142.59 L224.09 143.10 L224.12 143.60 L224.16 144.11 L224.20 144.62 L224.23 145.13 L224.27 145.64 L224.30 146.15 L224.34 146.66 L224.37 147.16 L224.41 147.67 L224.44 148.18 L224.48 148.69 L224.51 149.20 L224.55 149.71 L224.58 150.22 L224.62 150.72 L224.65 151.23 L224.69 151.74 L224.73 152.25 L224.76 152.76 L224.80 153.27 L224.83 153.77 L224.87 154.28 L224.90 154.79 L224.94 155.30 L224.97 155.81 L225.00 156.32 L225.04 156.82 L225.07 157.33 L225.11 157.84 L225.14 158.35 L225.18 158.86 L225.21 159.36 L225.25 159.87 L225.28 160.38 L225.32 160.89 L225.35 161.40 L225.39 161.91 L225.42 162.41 L225.46 162.92 L225.49 163.43 L225.53 163.94 L225.56 164.45 L225.59 164.95 L225.63 165.46 L225.66 165.97 L225.70 166.48 L225.73 166.99 L225.77 167.49 L225.80 168.00 L225.84 168.51 L225.87 169.02 L225.91 169.53 L225.94 170.03 L225.97 170.54 L226.01 171.05 L226.04 171.56 L226.08 172.07 L226.11 172.57 L226.15 173.08 L226.18 173.59 L226.22 174.10 L226.25 174.61 L226.28 175.11 L226.32 175.62 L226.35 176.13 L226.39 176.64 L226.42 177.15 L226.46 177.65 L226.49 178.16 L226.53 178.67 L226.56 179.18 L226.59 179.69 L226.63 180.19 L226.66 180.70 L226.70 181.21 L226.73 181.72 L226.77 182.23 L226.80 182.73 L226.84 183.24 L226.87 183.75 L226.90 184.26 L226.94 184.77 L226.97 185.27 L227.01 185.78 L227.04 186.29 L227.08 186.80 L227.11 187.30 L227.15 187.81 L227.18 188.32 L227.22 188.83 L227.25 189.34 L227.28 189.84 L227.32 190.35 L227.35 190.86 L227.39 191.37 L227.42 191.88 L227.46 192.38 L227.49 192.89 L227.53 193.40 L227.56 193.91 L227.60 194.41 L227.63 194.92 L227.67 195.43 L227.70 195.94 L227.74 196.45 L227.77 196.95 L227.81 197.46 L227.84 197.97 L227.88 198.48 L227.91 198.98 L227.95 199.49 L227.98 200.00 L228.02 200.51 L228.05 201.02 L228.09 201.52 L228.12 202.03 L228.16 202.54 L228.19 203.05 L228.23 203.55 L228.26 204.06 L228.30 204.57 L228.33 205.08 L228.37 205.59 L228.40 206.09 L228.44 206.60 L228.48 207.11 L228.51 207.62 L228.55 208.13 L228.58 208.63 L228.62 209.14 L228.65 209.65 L228.69 210.16 L228.73 210.66 L228.76 211.17 L228.80 211.68 L228.83 212.19 L228.87 212.70 L228.91 213.20 L228.94 213.71 L228.98 214.22 L229.01 214.73 L229.05 215.24 L229.09 215.74 L229.12 216.25 L229.16 216.76 L229.20 217.27 L229.23 217.77 L229.27 218.28 L229.30 218.79 L229.34 219.30 L229.38 219.81 L229.41 220.31 L229.45 220.82 L229.49 221.33 L229.53 221.84 L229.56 222.35 L229.60 222.85 L229.64 223.36 L229.67 223.87 L229.71 224.38 L229.75 224.89 L229.78 225.39 L229.82 225.90 L229.86 226.41 L229.90 226.92 L229.93 227.43 L229.97 227.93 L230.01 228.44 L230.05 228.95 L230.09 229.46 L230.12 229.97 L230.16 230.47 L230.20 230.98 L230.24 231.49 L230.27 232.00 L230.31 232.51 L230.35 233.01 L230.39 233.52 L230.43 234.03 L230.47 234.54 L230.50 235.05 L230.54 235.55 L230.58 236.06 L230.62 236.57 L230.66 237.08 L230.70 237.59 L230.74 238.10 L230.78 238.60 L230.82 239.11 L230.85 239.62 L230.89 240.13 L230.93 240.64 L230.97 241.14 L231.01 241.65 L231.05 242.16 L231.09 242.67 L231.13 243.18 L231.17 243.69 L231.21 244.19 L231.25 244.70 L231.29 245.21 L231.33 245.72 L231.37 246.23 L231.41 246.74 L231.45 247.24 L231.49 247.75 L231.53 248.26 L231.57 248.77 L231.61 249.28 L231.65 249.79 L231.69 250.29 L231.74 250.80 L231.78 251.31 L231.82 251.82 L231.86 252.33 L231.90 252.84 L231.94 253.34 L231.98 253.85 L232.02 254.36 L232.07 254.87 L232.11 255.38 L232.15 255.89 L232.19 256.40 L232.23 256.90 L232.28 257.41 L232.32 257.92 L232.36 258.43 L232.40 258.94 L232.45 259.45 L232.49 259.96 L232.53 260.46 L232.58 260.97 L232.62 261.48 L232.66 261.99 L232.70 262.50 L232.75 263.01 L232.79 263.52 L232.84 264.03 L232.88 264.53 L232.92 265.04 L232.97 265.55 L233.01 266.06 L233.06 266.57 L233.10 267.08 L233.15 267.59 L233.19 268.09 L233.24 268.60 L233.28 269.11 L233.33 269.62 L233.37 270.13 L233.42 270.64 L233.47 271.14 L233.51 271.65 L233.56 272.16 L233.61 272.67 L233.65 273.18 L233.70 273.69 L233.75 274.20 L233.80 274.70 L233.84 275.21 L233.89 275.72 L233.94 276.23 L233.99 276.74 L234.04 277.24 L234.09 277.75 L234.14 278.26 L234.19 278.77 L234.24 279.28 L234.29 279.78 L234.34 280.29 L234.39 280.80 L234.44 281.31 L234.49 281.82 L234.54 282.32 L234.59 282.83 L234.64 283.34 L234.69 283.85 L234.75 284.35 L234.80 284.86 L234.85 285.37 L234.90 285.88 L234.96 286.38 L235.01 286.89 L235.07 287.40 L235.12 287.91 L235.17 288.41 L235.23 288.92 L235.28 289.43 L235.34 289.93 L235.40 290.44 L235.45 290.95 L235.51 291.46 L235.56 291.96 L235.62 292.47 L235.68 292.98 L235.74 293.48 L235.80 293.99 L235.85 294.50 L235.91 295.00 L235.97 295.51 L236.03 296.01 L236.09 296.52 L236.15 297.03 L236.21 297.53 L236.27 298.04 L236.33 298.54 L236.39 299.05 L236.46 299.56 L236.52 300.06 L236.58 300.57 L236.64 301.07 L236.71 301.58 L236.77 302.08 L236.84 302.59 L236.90 303.09 L236.97 303.60 L237.03 304.10 L237.10 304.61 L237.16 305.11 L237.23 305.62 L237.30 306.12 L237.36 306.63 L237.43 307.13 L237.50 307.64 L237.57 308.14 L237.64 308.65 L237.71 309.15 L237.78 309.65 L237.85 310.16 L237.92 310.66 L237.99 311.16 L238.06 311.67 L238.13 312.17 L238.20 312.68 L238.28 313.18 L238.35 313.68 L238.42 314.18 L238.50 314.69 L238.57 315.19 L238.65 315.69 L238.72 316.20 L238.80 316.70 L238.88 317.20 L238.95 317.70 L239.03 318.21 L239.11 318.71 L239.19 319.21 L239.27 319.71 L239.35 320.21 L239.43 320.71 L239.51 321.22 L239.59 321.72 L239.67 322.22 L239.75 322.72 L239.84 323.22 L239.92 323.72 L240.00 324.22 L240.09 324.72 L240.17 325.22 L240.26 325.72 L240.34 326.22 L240.43 326.72 L240.52 327.22 L240.60 327.72 L240.69 328.22 L240.78 328.72 L240.87 329.22 L240.96 329.72 L241.05 330.22 L241.14 330.72 L241.23 331.22 L241.32 331.72 L241.41 332.22 L241.51 332.71 L241.60 333.21 L241.69 333.71 L241.79 334.21 L241.88 334.71 L241.98 335.20 L242.08 335.70 L242.17 336.20 L242.27 336.70 L242.37 337.19 L242.47 337.69 L242.57 338.19 L242.67 338.68 L242.77 339.18 L242.87 339.68 L242.97 340.17 L243.08 340.67 L243.18 341.17 L243.29 341.66 L243.40 342.16 L243.51 342.66 L243.62 343.15 L243.73 343.65 L243.85 344.15 L243.96 344.65 L244.08 345.14 L244.20 345.64 L244.33 346.14 L244.46 346.64 L244.58 347.14 L244.72 347.64 L244.85 348.14 L244.99 348.65 L245.13 349.15 L245.28 349.65 L245.43 350.16 L245.58 350.66 L245.73 351.17 L245.89 351.68 L246.06 352.18 L246.22 352.69 L246.40 353.20 L246.57 353.71 L246.75 354.22 L246.93 354.73 L247.12 355.23 L247.32 355.73 L247.51 356.22 L247.71 356.70 L247.92 357.18 L248.12 357.64 L248.34 358.10 L248.55 358.54 L248.77 358.94 L248.99 359.30 L249.22 359.56 L249.44 359.72 L249.67 359.74 L249.89 359.62 L250.12 359.38 L250.35 359.04 L250.59 358.63 L250.83 358.17 L251.08 357.69 L251.34 357.20 L251.61 356.73 L251.89 356.26 L252.17 355.80 L252.46 355.35 L252.75 354.90 L253.05 354.46 L253.35 354.03 L253.64 353.59 L253.94 353.16 L254.23 352.73 L254.52 352.30 L254.80 351.86 L255.08 351.43 L255.35 350.99 L255.62 350.55 L255.88 350.11 L256.14 349.67 L256.39 349.23 L256.64 348.78 L256.89 348.34 L257.14 347.89 L257.39 347.45 L257.63 347.00 L257.88 346.56 L258.13 346.12 L258.38 345.68 L258.63 345.24 L258.89 344.80 L259.14 344.36 L259.41 343.92 L259.67 343.49 L259.94 343.06 L260.21 342.63 L260.49 342.20 L260.76 341.77 L261.04 341.35 L261.33 340.92 L261.62 340.50 L261.91 340.08 L262.20 339.67 L262.50 339.25 L262.80 338.84 L263.10 338.43 L263.41 338.02 L263.71 337.61 L264.03 337.20 L264.34 336.80 L264.66 336.40 L264.98 336.00 L265.30 335.61 L265.63 335.21 L265.96 334.82 L266.29 334.43 L266.62 334.04 L266.96 333.66 L267.30 333.27 L267.64 332.89 L267.99 332.51 L268.33 332.14 L268.68 331.76 L269.04 331.39 L269.39 331.03 L269.75 330.66 L270.11 330.30 L270.47 329.93 L270.84 329.58 L271.21 329.22 L271.58 328.87 L271.95 328.52 L272.33 328.17 L272.70 327.82 L273.08 327.48 L273.47 327.14 L273.85 326.80 L274.24 326.47 L274.63 326.13 L275.02 325.81 L275.41 325.48 L275.81 325.16 L276.20 324.84 L276.60 324.52 L277.01 324.20 L277.41 323.89 L277.82 323.58 L278.22 323.28 L278.63 322.97 L279.04 322.67 L279.46 322.38 L279.87 322.08 L280.29 321.79 L280.71 321.51 L281.13 321.22 L281.56 320.94 L281.98 320.66 L282.41 320.39 L282.84 320.12 L283.27 319.85 L283.70 319.58 L284.13 319.32 L284.57 319.06 L285.01 318.81 L285.44 318.56 L285.88 318.31 L286.33 318.06 L286.77 317.82 L287.21 317.58 L287.66 317.35 L288.11 317.12 L288.56 316.89 L289.01 316.67 L289.46 316.45 L289.91 316.23 L290.37 316.01 L290.82 315.80 L291.28 315.60 L291.74 315.39 L292.20 315.19 L292.66 314.99 L293.13 314.80 L293.59 314.60 L294.06 314.42 L294.52 314.23 L294.99 314.05 L295.46 313.87 L295.93 313.69 L296.40 313.52 L296.87 313.34 L297.35 313.18 L297.82 313.01 L298.30 312.85 L298.78 312.69 L299.25 312.53 L299.73 312.38 L300.21 312.22 L300.70 312.07 L301.18 311.93 L301.66 311.78 L302.15 311.64 L302.63 311.50 L303.12 311.36 L303.60 311.23 L304.09 311.10 L304.58 310.97 L305.07 310.84 L305.56 310.72 L306.05 310.59 L306.55 310.47 L307.04 310.36 L307.53 310.24 L308.03 310.13 L308.52 310.01 L309.02 309.90 L309.52 309.80 L310.02 309.69 L310.51 309.59 L311.01 309.49 L311.51 309.39 L312.01 309.29 L312.51 309.19 L313.02 309.10 L313.52 309.01 L314.02 308.92 L314.53 308.83 L315.03 308.74 L315.53 308.65 L316.04 308.57 L316.54 308.49 L317.05 308.41 L317.56 308.33 L318.06 308.25 L318.57 308.18 L319.08 308.10 L319.59 308.03 L320.10 307.96 L320.60 307.89 L321.11 307.82 L321.62 307.75 L322.13 307.69 L322.64 307.62 L323.15 307.56 L323.66 307.50 L324.18 307.44 L324.69 307.38 L325.20 307.32 L325.71 307.26 L326.22 307.20 L326.73 307.15 L327.25 307.09 L327.76 307.04 L328.27 306.99 L328.78 306.93 L329.29 306.88 L329.81 306.83 L330.32 306.78 L330.83 306.73 L331.34 306.69 L331.86 306.64 L332.37 306.59 L332.88 306.55 L333.40 306.50 L333.91 306.46 L334.42 306.41 L334.93 306.37 L335.44 306.33 L335.96 306.28 L336.47 306.24 L336.98 306.20 L337.49 306.16 L338.00 306.12 L338.52 306.08 L339.03 306.04 L339.54 306.00 L340.05 305.97 L340.56 305.93 L341.07 305.89 L341.59 305.85 L342.10 305.82 L342.61 305.78 L343.12 305.75 L343.63 305.72 L344.14 305.68 L344.65 305.65 L345.16 305.62 L345.68 305.58 L346.19 305.55 L346.70 305.52 L347.21 305.49 L347.72 305.46 L348.23 305.43 L348.74 305.40 L349.25 305.37 L349.76 305.35 L350.27 305.32 L350.78 305.29 L351.29 305.27 L351.80 305.24 L352.31 305.21 L352.82 305.19 L353.33 305.16 L353.84 305.14 L354.35 305.12 L354.86 305.09 L355.37 305.07 L355.88 305.05 L356.39 305.03 L356.90 305.01 L357.41 304.99 L357.92 304.96 L358.43 304.94 L358.94 304.93 L359.45 304.91 L359.96 304.89 L360.47 304.87 L360.98 304.85 L361.49 304.83 L362.00 304.82 L362.51 304.80 L363.02 304.78 L363.53 304.77 L364.04 304.75 L364.54 304.74 L365.05 304.72 L365.56 304.71 L366.07 304.70 L366.58 304.68 L367.09 304.67 L367.60 304.66 L368.11 304.65 L368.62 304.63 L369.12 304.62 L369.63 304.61 L370.14 304.60 L370.65 304.59 L371.16 304.58 L371.67 304.57 L372.18 304.56 L372.69 304.55 L373.19 304.55 L373.70 304.54 L374.21 304.53 L374.72 304.52 L375.23 304.52 L375.74 304.51 L376.25 304.50 L376.75 304.50 L377.26 304.49 L377.77 304.49 L378.28 304.48 L378.79 304.48 L379.30 304.47 L379.80 304.47 L380.31 304.47 L380.82 304.46 L381.33 304.46 L381.84 304.46 L382.34 304.46 L382.85 304.45 L383.36 304.45 L383.87 304.45 L384.38 304.45 L384.88 304.45 L385.39 304.45 L385.90 304.45 L386.41 304.45 L386.92 304.45 L387.42 304.45 L387.93 304.45 L388.44 304.45 L388.95 304.45 L389.46 304.45 L389.96 304.46 L390.47 304.46 L390.98 304.46 L391.49 304.46 L392.00 304.47 L392.50 304.47 L393.01 304.47 L393.52 304.48 L394.03 304.48 L394.54 304.48 L395.04 304.49 L395.55 304.49 L396.06 304.50 L396.57 304.50 L397.07 304.51 L397.58 304.51 L398.09 304.52 L398.60 304.53 L399.11 304.53 L399.61 304.54 L400.12 304.54 L400.63 304.55 L401.14 304.56 L401.65 304.57 L402.15 304.57 L402.66 304.58 L403.17 304.59 L403.68 304.60 L404.18 304.60 L404.69 304.61 L405.20 304.62 L405.71 304.63 L406.22 304.64 L406.72 304.65 L407.23 304.66 L407.74 304.67 L408.25 304.68 L408.76 304.69 L409.26 304.70 L409.77 304.71 L410.28 304.72 L410.79 304.73 L411.29 304.74 L411.80 304.75 L412.31 304.76 L412.82 304.77 L413.33 304.78 L413.83 304.79 L414.34 304.80 L414.85 304.81 L415.36 304.82 L415.87 304.83 L416.38 304.85 L416.88 304.86 L417.39 304.87 L417.90 304.88 L418.41 304.89 L418.92 304.91 L419.42 304.92 L419.93 304.93 L420.44 304.94 L420.95 304.96 L421.46 304.97 L421.97 304.98 L422.47 304.99 L422.98 305.01 L423.49 305.02 L424.00 305.03 L424.51 305.04 L425.02 305.06 L425.52 305.07 L426.03 305.08 L426.54 305.10 L427.05 305.11 L427.56 305.12 L428.07 305.14 L428.58 305.15 L429.09 305.16 L429.59 305.18 L430.10 305.19 L430.61 305.20 L431.12 305.22 L431.63 305.23 L432.14 305.24 L432.65 305.26 L433.16 305.27 L433.67 305.29 L434.17 305.30 L434.68 305.31 L435.19 305.33 L435.70 305.34 L436.21 305.35 L436.72 305.37 L437.23 305.38 L437.74 305.39 L438.25 305.41 L438.76 305.42 L439.27 305.43 L439.78 305.45 L440.29 305.46 L440.80 305.48 L441.31 305.49 L441.82 305.50 L442.33 305.52 L442.84 305.53 L443.35 305.54 L443.86 305.56 L444.37 305.57 L444.88 305.58 L445.39 305.59 L445.90 305.61 L446.41 305.62 L446.92 305.63 L447.43 305.65 L447.94 305.66 L448.45 305.67 L448.96 305.68 L449.47 305.70 L449.98 305.71 L450.49 305.72 L451.00 305.73 L451.51 305.75 L452.02 305.76 L452.53 305.77 L453.04 305.78 L453.55 305.79 L454.06 305.80 L454.58 305.82 L455.09 305.83 L455.60 305.84 L456.11 305.85 L456.62 305.86 L457.13 305.87 L457.64 305.88 L458.15 305.89 L458.67 305.90 L459.18 305.91 L459.69 305.92 L460.20 305.93 L460.71 305.94 L461.22 305.95 L461.74 305.96 L462.25 305.97 L462.76 305.98 L463.27 305.99 L463.78 306.00 L464.30 306.01 L464.81 306.02 L465.32 306.03 L465.83 306.04 L466.35 306.04 L466.86 306.05 L467.37 306.06 L467.88 306.07 L468.40 306.07 L468.91 306.08 L469.42 306.09 L469.94 306.10 L470.45 306.10 L470.96 306.11 L471.48 306.12 L471.99 306.12 L472.50 306.13 L473.02 306.13 L473.53 306.14 L474.04 306.14" stroke="#da4219" stroke-width="3.2" stroke-dasharray="0.00 0.00 4.37 16.20 15.30 16.45 15.30 16.37 15.30 17.47 15.30 13.41 15.30 16.48 15.30 16.48 15.30 16.48 17.50 13.62 17.50 13.63 17.50 13.06 17.50 13.55 17.00 15.47 17.00 15.47 17.00 15.47 17.00 15.47 15.30 17.15 15.30 19.44 15.30 14.51 15.30 15.92 15.30 14.88 15.30 17.24 15.30 16.21 15.30 17.35 15.30 3000.00"/>
</g>
<rect x="73" y="47.5" width="401" height="322.5" fill="none" stroke="#000" stroke-width="2.1"/>
<path d="M206.67 370 V363.5 M340.33 370 V363.5 M139.83 370 V366.5 M273.50 370 V366.5 M407.17 370 V366.5 M73 289.38 H79.5 M73 208.75 H79.5 M73 128.12 H79.5 M73 329.69 H76.5 M73 249.06 H76.5 M73 168.44 H76.5 M73 87.81 H76.5 " stroke="#000" stroke-width="2" fill="none"/>
<text transform="translate(66.30,376.80) scale(1,1.08)" class="t" text-anchor="end">0</text>
<text transform="translate(66.30,296.18) scale(1,1.08)" class="t" text-anchor="end">30</text>
<text transform="translate(66.30,215.55) scale(1,1.08)" class="t" text-anchor="end">60</text>
<text transform="translate(66.30,134.93) scale(1,1.08)" class="t" text-anchor="end">90</text>
<text transform="translate(66.30,54.30) scale(1,1.08)" class="t" text-anchor="end">120</text>
<text transform="translate(73.00,395.70) scale(1,1.08)" class="t" text-anchor="middle">600</text>
<text transform="translate(206.67,395.70) scale(1,1.08)" class="t" text-anchor="middle">700</text>
<text transform="translate(340.33,395.70) scale(1,1.08)" class="t" text-anchor="middle">800</text>
<text transform="translate(474.00,395.70) scale(1,1.08)" class="t" text-anchor="middle">900</text>

<text x="273" y="432.6" class="ti" text-anchor="middle">Wavelength (nm)</text>
<text transform="translate(21.1,208.5) rotate(-90)" class="ti" text-anchor="middle">Electric field intensity (a.u.)</text>
<path d="M337.3 82.6 H387.1" stroke="#3b59cc" stroke-width="3.2"/>
<path d="M337.3 108.6 H353 M369 108.6 H385" stroke="#da4219" stroke-width="3.2"/>
<text transform="translate(391.30,89.50) scale(1,1.04)" class="lg" text-anchor="start">FDTD</text>

<text transform="translate(392.00,115.20) scale(1,1.04)" class="lg" text-anchor="start">ICM</text>


<text x="553.5" y="28" class="pl" letter-spacing="1">(b)</text>
<g fill="none" stroke-linejoin="round">
<path d="M606.45 147.80 L606.84 148.04 L607.24 148.27 L607.64 148.49 L608.04 148.72 L608.44 148.95 L608.83 149.17 L609.23 149.39 L609.63 149.61 L610.03 149.83 L610.44 150.05 L610.84 150.26 L611.24 150.47 L611.64 150.69 L612.04 150.90 L612.44 151.11 L612.85 151.31 L613.25 151.52 L613.65 151.72 L614.06 151.92 L614.46 152.12 L614.87 152.32 L615.27 152.52 L615.68 152.72 L616.08 152.91 L616.49 153.11 L616.90 153.30 L617.30 153.49 L617.71 153.68 L618.12 153.86 L618.53 154.05 L618.94 154.23 L619.34 154.42 L619.75 154.60 L620.16 154.78 L620.57 154.96 L620.98 155.14 L621.39 155.31 L621.81 155.49 L622.22 155.66 L622.63 155.83 L623.04 156.00 L623.45 156.17 L623.87 156.34 L624.28 156.51 L624.69 156.67 L625.11 156.84 L625.52 157.00 L625.94 157.16 L626.35 157.32 L626.77 157.48 L627.18 157.64 L627.60 157.80 L628.01 157.95 L628.43 158.11 L628.85 158.26 L629.26 158.41 L629.68 158.56 L630.10 158.71 L630.52 158.86 L630.94 159.01 L631.36 159.15 L631.78 159.30 L632.20 159.44 L632.62 159.59 L633.04 159.73 L633.46 159.87 L633.88 160.01 L634.30 160.15 L634.72 160.28 L635.14 160.42 L635.56 160.56 L635.99 160.69 L636.41 160.83 L636.83 160.96 L637.26 161.09 L637.68 161.22 L638.11 161.35 L638.53 161.48 L638.96 161.61 L639.38 161.73 L639.81 161.86 L640.23 161.98 L640.66 162.11 L641.09 162.23 L641.51 162.35 L641.94 162.48 L642.37 162.60 L642.80 162.72 L643.22 162.83 L643.65 162.95 L644.08 163.07 L644.51 163.19 L644.94 163.30 L645.37 163.42 L645.80 163.53 L646.23 163.65 L646.66 163.76 L647.09 163.87 L647.52 163.98 L647.96 164.09 L648.39 164.20 L648.82 164.31 L649.25 164.42 L649.69 164.53 L650.12 164.63 L650.55 164.74 L650.99 164.84 L651.42 164.95 L651.85 165.05 L652.29 165.16 L652.72 165.26 L653.16 165.36 L653.60 165.46 L654.03 165.57 L654.47 165.67 L654.90 165.77 L655.34 165.87 L655.78 165.97 L656.22 166.06 L656.65 166.16 L657.09 166.26 L657.53 166.36 L657.97 166.45 L658.41 166.55 L658.85 166.64 L659.29 166.74 L659.73 166.83 L660.17 166.93 L660.61 167.02 L661.05 167.12 L661.49 167.21 L661.93 167.30 L662.37 167.39 L662.81 167.48 L663.25 167.58 L663.70 167.67 L664.14 167.76 L664.58 167.85 L665.02 167.94 L665.47 168.03 L665.91 168.12 L666.35 168.21 L666.80 168.30 L667.24 168.38 L667.69 168.47 L668.13 168.56 L668.58 168.65 L669.02 168.74 L669.47 168.83 L669.91 168.91 L670.36 169.00 L670.80 169.09 L671.25 169.18 L671.69 169.27 L672.14 169.36 L672.59 169.45 L673.03 169.54 L673.48 169.63 L673.92 169.72 L674.37 169.81 L674.81 169.90 L675.26 169.99 L675.70 170.08 L676.15 170.17 L676.59 170.26 L677.04 170.35 L677.48 170.45 L677.93 170.54 L678.37 170.64 L678.81 170.73 L679.26 170.83 L679.70 170.92 L680.15 171.02 L680.59 171.12 L681.03 171.22 L681.47 171.32 L681.92 171.42 L682.36 171.52 L682.80 171.62 L683.24 171.72 L683.68 171.83 L684.12 171.93 L684.56 172.04 L685.00 172.15 L685.44 172.26 L685.88 172.37 L686.32 172.48 L686.75 172.59 L687.19 172.70 L687.63 172.82 L688.06 172.93 L688.50 173.05 L688.93 173.17 L689.37 173.29 L689.80 173.41 L690.23 173.53 L690.67 173.66 L691.10 173.78 L691.53 173.91 L691.96 174.04 L692.39 174.17 L692.82 174.30 L693.25 174.43 L693.67 174.57 L694.10 174.71 L694.53 174.85 L694.95 174.99 L695.37 175.13 L695.80 175.27 L696.22 175.42 L696.64 175.57 L697.06 175.72 L697.48 175.87 L697.90 176.03 L698.32 176.18 L698.74 176.34 L699.15 176.50 L699.57 176.66 L699.98 176.83 L700.40 177.00 L700.81 177.17 L701.22 177.34 L701.63 177.51 L702.04 177.69 L702.45 177.87 L702.85 178.05 L703.26 178.23 L703.66 178.42 L704.07 178.61 L704.47 178.80 L704.87 178.99 L705.27 179.19 L705.67 179.38 L706.07 179.59 L706.46 179.79 L706.86 179.99 L707.25 180.20 L707.64 180.41 L708.03 180.63 L708.42 180.84 L708.81 181.06 L709.20 181.28 L709.59 181.50 L709.97 181.73 L710.36 181.96 L710.74 182.19 L711.12 182.42 L711.50 182.65 L711.87 182.89 L712.25 183.13 L712.63 183.37 L713.00 183.62 L713.37 183.86 L713.74 184.11 L714.11 184.36 L714.48 184.61 L714.85 184.87 L715.21 185.13 L715.58 185.38 L715.94 185.65 L716.30 185.91 L716.66 186.18 L717.01 186.44 L717.37 186.71 L717.72 186.99 L718.08 187.26 L718.43 187.54 L718.78 187.82 L719.12 188.10 L719.47 188.38 L719.82 188.66 L720.16 188.95 L720.50 189.24 L720.84 189.53 L721.18 189.82 L721.51 190.12 L721.85 190.41 L722.18 190.71 L722.51 191.01 L722.84 191.32 L723.17 191.62 L723.49 191.93 L723.82 192.23 L724.14 192.54 L724.46 192.86 L724.78 193.17 L725.10 193.49 L725.41 193.80 L725.72 194.12 L726.03 194.45 L726.34 194.77 L726.65 195.09 L726.96 195.42 L727.26 195.75 L727.56 196.08 L727.86 196.41 L728.16 196.74 L728.46 197.08 L728.75 197.42 L729.04 197.76 L729.33 198.10 L729.62 198.44 L729.91 198.78 L730.19 199.13 L730.47 199.47 L730.75 199.82 L731.03 200.17 L731.31 200.53 L731.58 200.88 L731.85 201.23 L732.12 201.59 L732.39 201.95 L732.65 202.31 L732.92 202.67 L733.18 203.03 L733.44 203.40 L733.69 203.76 L733.95 204.13 L734.20 204.50 L734.45 204.87 L734.70 205.24 L734.94 205.61 L735.19 205.99 L735.43 206.36 L735.67 206.74 L735.90 207.12 L736.14 207.50 L736.37 207.88 L736.60 208.27 L736.83 208.65 L737.05 209.03 L737.28 209.42 L737.50 209.81 L737.72 210.20 L737.93 210.59 L738.14 210.98 L738.36 211.37 L738.56 211.77 L738.77 212.17 L738.97 212.56 L739.18 212.96 L739.37 213.36 L739.57 213.76 L739.76 214.16 L739.96 214.56 L740.14 214.97 L740.33 215.37 L740.52 215.78 L740.70 216.19 L740.88 216.60 L741.05 217.00 L741.23 217.42 L741.40 217.83 L741.56 218.24 L741.73 218.65 L741.89 219.07 L742.05 219.48 L742.21 219.90 L742.37 220.32 L742.52 220.74 L742.67 221.16 L742.82 221.58 L742.97 222.00 L743.11 222.42 L743.25 222.85 L743.39 223.27 L743.53 223.69 L743.66 224.12 L743.79 224.55 L743.92 224.97 L744.05 225.40 L744.17 225.83 L744.30 226.26 L744.42 226.69 L744.54 227.12 L744.66 227.56 L744.77 227.99 L744.89 228.42 L745.00 228.86 L745.11 229.29 L745.22 229.73 L745.32 230.16 L745.43 230.60 L745.53 231.04 L745.63 231.48 L745.73 231.91 L745.83 232.35 L745.93 232.79 L746.03 233.23 L746.12 233.67 L746.21 234.12 L746.30 234.56 L746.39 235.00 L746.48 235.44 L746.57 235.88 L746.66 236.33 L746.74 236.77 L746.83 237.22 L746.91 237.66 L746.99 238.11 L747.07 238.55 L747.15 239.00 L747.23 239.44 L747.31 239.89 L747.38 240.34 L747.46 240.78 L747.53 241.23 L747.61 241.68 L747.68 242.12 L747.75 242.57 L747.83 243.02 L747.90 243.47 L747.97 243.92 L748.04 244.36 L748.11 244.81 L748.18 245.26 L748.24 245.71 L748.31 246.16 L748.38 246.61 L748.45 247.06 L748.51 247.51 L748.58 247.96 L748.65 248.40 L748.71 248.85 L748.78 249.30 L748.84 249.75 L748.91 250.20 L748.97 250.65 L749.04 251.10 L749.10 251.55 L749.17 251.99 L749.24 252.44 L749.30 252.89 L749.37 253.34 L749.43 253.79 L749.50 254.23 L749.56 254.68 L749.63 255.13 L749.70 255.58 L749.76 256.02 L749.83 256.47 L749.90 256.92 L749.97 257.36 L750.03 257.81 L750.10 258.25 L750.17 258.70 L750.24 259.14 L750.31 259.59 L750.38 260.03 L750.46 260.47 L750.53 260.92 L750.60 261.36 L750.68 261.80 L750.75 262.25 L750.82 262.69 L750.90 263.13 L750.98 263.57 L751.05 264.01 L751.13 264.45 L751.21 264.89 L751.28 265.33 L751.36 265.77 L751.44 266.21 L751.52 266.65 L751.60 267.09 L751.68 267.53 L751.76 267.97 L751.84 268.41 L751.92 268.84 L752.01 269.28 L752.09 269.72 L752.17 270.16 L752.26 270.60 L752.34 271.03 L752.43 271.47 L752.51 271.91 L752.60 272.34 L752.68 272.78 L752.77 273.22 L752.86 273.65 L752.94 274.09 L753.03 274.52 L753.12 274.96 L753.21 275.39 L753.30 275.83 L753.39 276.26 L753.48 276.70 L753.57 277.14 L753.66 277.57 L753.75 278.01 L753.84 278.44 L753.93 278.87 L754.03 279.31 L754.12 279.74 L754.21 280.18 L754.31 280.61 L754.40 281.05 L754.49 281.48 L754.59 281.92 L754.68 282.35 L754.78 282.78 L754.88 283.22 L754.97 283.65 L755.07 284.09 L755.17 284.52 L755.26 284.96 L755.36 285.39 L755.46 285.82 L755.56 286.26 L755.66 286.69 L755.75 287.13 L755.85 287.56 L755.95 287.99 L756.05 288.43 L756.15 288.86 L756.25 289.30 L756.36 289.73 L756.46 290.17 L756.56 290.60 L756.66 291.04 L756.76 291.47 L756.87 291.91 L756.97 292.34 L757.07 292.78 L757.18 293.21 L757.28 293.65 L757.38 294.08 L757.49 294.52 L757.59 294.95 L757.70 295.39 L757.81 295.82 L757.91 296.26 L758.02 296.69 L758.13 297.13 L758.24 297.56 L758.35 298.00 L758.46 298.44 L758.57 298.87 L758.68 299.31 L758.79 299.74 L758.90 300.17 L759.01 300.61 L759.12 301.04 L759.24 301.48 L759.35 301.91 L759.47 302.35 L759.58 302.78 L759.70 303.22 L759.82 303.65 L759.94 304.09 L760.05 304.52 L760.17 304.95 L760.29 305.39 L760.42 305.82 L760.54 306.25 L760.66 306.69 L760.78 307.12 L760.91 307.55 L761.03 307.99 L761.16 308.42 L761.29 308.85 L761.41 309.28 L761.54 309.71 L761.67 310.15 L761.80 310.58 L761.94 311.01 L762.07 311.44 L762.20 311.87 L762.34 312.30 L762.47 312.73 L762.61 313.16 L762.75 313.59 L762.89 314.02 L763.03 314.45 L763.17 314.88 L763.31 315.31 L763.45 315.74 L763.60 316.16 L763.74 316.59 L763.89 317.02 L764.04 317.45 L764.18 317.87 L764.34 318.30 L764.49 318.72 L764.64 319.15 L764.80 319.57 L764.96 320.00 L765.11 320.42 L765.28 320.84 L765.44 321.26 L765.61 321.68 L765.78 322.10 L765.95 322.51 L766.12 322.93 L766.30 323.34 L766.48 323.75 L766.66 324.16 L766.84 324.57 L767.03 324.98 L767.22 325.38 L767.42 325.79 L767.62 326.19 L767.82 326.59 L768.03 326.98 L768.24 327.38 L768.45 327.77 L768.67 328.16 L768.89 328.55 L769.12 328.93 L769.35 329.31 L769.58 329.69 L769.82 330.07 L770.06 330.44 L770.31 330.81 L770.56 331.18 L770.82 331.55 L771.09 331.91 L771.35 332.27 L771.63 332.62 L771.91 332.97 L772.19 333.32 L772.48 333.66 L772.78 333.99 L773.08 334.27 L773.40 334.50 L773.73 334.66 L774.07 334.72 L774.42 334.69 L774.78 334.57 L775.14 334.38 L775.49 334.12 L775.83 333.81 L776.16 333.46 L776.46 333.07 L776.73 332.67 L776.98 332.25 L777.20 331.83 L777.40 331.39 L777.57 330.94 L777.73 330.49 L777.88 330.03 L778.01 329.57 L778.13 329.11 L778.25 328.65 L778.36 328.19 L778.47 327.74 L778.58 327.29 L778.68 326.84 L778.78 326.39 L778.87 325.94 L778.97 325.50 L779.06 325.05 L779.14 324.61 L779.23 324.17 L779.31 323.73 L779.39 323.29 L779.47 322.85 L779.54 322.41 L779.62 321.97 L779.69 321.53 L779.76 321.09 L779.82 320.65 L779.89 320.21 L779.95 319.78 L780.02 319.34 L780.08 318.90 L780.13 318.46 L780.19 318.01 L780.25 317.57 L780.30 317.13 L780.35 316.69 L780.40 316.25 L780.45 315.81 L780.50 315.37 L780.54 314.93 L780.58 314.48 L780.63 314.04 L780.67 313.60 L780.71 313.16 L780.75 312.71 L780.78 312.27 L780.82 311.83 L780.85 311.39 L780.89 310.94 L780.92 310.50 L780.95 310.06 L780.98 309.61 L781.01 309.17 L781.03 308.72 L781.06 308.28 L781.08 307.84 L781.11 307.39 L781.13 306.95 L781.15 306.50 L781.17 306.06 L781.19 305.61 L781.21 305.17 L781.23 304.72 L781.25 304.28 L781.27 303.83 L781.28 303.38 L781.30 302.94 L781.31 302.49 L781.33 302.05 L781.34 301.60 L781.35 301.15 L781.36 300.71 L781.38 300.26 L781.39 299.81 L781.40 299.37 L781.41 298.92 L781.42 298.47 L781.42 298.03 L781.43 297.58 L781.44 297.13 L781.45 296.68 L781.46 296.24 L781.46 295.79 L781.47 295.34 L781.48 294.89 L781.49 294.45 L781.49 294.00 L781.50 293.55 L781.50 293.10 L781.51 292.65 L781.52 292.20 L781.52 291.76 L781.53 291.31 L781.53 290.86 L781.54 290.41 L781.55 289.96 L781.55 289.51 L781.56 289.06 L781.57 288.61 L781.57 288.16 L781.58 287.72 L781.59 287.27 L781.59 286.82 L781.60 286.37 L781.61 285.92 L781.62 285.47 L781.62 285.02 L781.63 284.57 L781.64 284.12 L781.65 283.67 L781.65 283.22 L781.66 282.77 L781.67 282.32 L781.68 281.87 L781.69 281.42 L781.69 280.97 L781.70 280.52 L781.71 280.07 L781.72 279.62 L781.73 279.17 L781.74 278.72 L781.75 278.27 L781.76 277.82 L781.76 277.37 L781.77 276.92 L781.78 276.47 L781.79 276.02 L781.80 275.57 L781.81 275.12 L781.82 274.67 L781.83 274.22 L781.84 273.76 L781.85 273.31 L781.86 272.86 L781.87 272.41 L781.88 271.96 L781.89 271.51 L781.90 271.06 L781.91 270.61 L781.92 270.16 L781.93 269.71 L781.94 269.26 L781.96 268.81 L781.97 268.36 L781.98 267.91 L781.99 267.46 L782.00 267.00 L782.01 266.55 L782.02 266.10 L782.03 265.65 L782.04 265.20 L782.06 264.75 L782.07 264.30 L782.08 263.85 L782.09 263.40 L782.10 262.95 L782.11 262.50 L782.13 262.05 L782.14 261.60 L782.15 261.14 L782.16 260.69 L782.17 260.24 L782.19 259.79 L782.20 259.34 L782.21 258.89 L782.22 258.44 L782.24 257.99 L782.25 257.54 L782.26 257.09 L782.27 256.64 L782.29 256.19 L782.30 255.74 L782.31 255.29 L782.33 254.84 L782.34 254.39 L782.35 253.94 L782.36 253.49 L782.38 253.04 L782.39 252.59 L782.40 252.14 L782.42 251.69 L782.43 251.24 L782.44 250.79 L782.46 250.34 L782.47 249.89 L782.48 249.44 L782.50 248.99 L782.51 248.54 L782.53 248.09 L782.54 247.64 L782.55 247.19 L782.57 246.74 L782.58 246.29 L782.59 245.84 L782.61 245.40 L782.62 244.95 L782.64 244.50 L782.65 244.05 L782.67 243.60 L782.68 243.15 L782.69 242.70 L782.71 242.25 L782.72 241.80 L782.74 241.36 L782.75 240.91 L782.77 240.46 L782.78 240.01 L782.79 239.56 L782.81 239.12 L782.82 238.67 L782.84 238.22 L782.85 237.77 L782.87 237.32 L782.88 236.88 L782.90 236.43 L782.91 235.98 L782.93 235.54 L782.94 235.09 L782.96 234.64 L782.97 234.19 L782.99 233.75 L783.00 233.30 L783.02 232.85 L783.03 232.41 L783.05 231.96 L783.06 231.52 L783.08 231.07 L783.09 230.62 L783.11 230.18 L783.12 229.73 L783.14 229.29 L783.15 228.84 L783.17 228.40 L783.18 227.95 L783.20 227.50 L783.21 227.06 L783.23 226.62 L783.24 226.17 L783.26 225.73 L783.27 225.28 L783.29 224.84 L783.31 224.39 L783.32 223.95 L783.34 223.51 L783.35 223.06 L783.37 222.62 L783.38 222.17 L783.40 221.73 L783.41 221.29 L783.43 220.84 L783.44 220.40 L783.46 219.96 L783.47 219.52 L783.49 219.07 L783.51 218.63 L783.52 218.19 L783.54 217.75 L783.55 217.31 L783.57 216.86 L783.58 216.42 L783.60 215.98 L783.62 215.54 L783.63 215.10 L783.65 214.66 L783.66 214.21 L783.68 213.77 L783.70 213.33 L783.71 212.89 L783.73 212.45 L783.75 212.01 L783.76 211.57 L783.78 211.12 L783.80 210.68 L783.82 210.24 L783.83 209.80 L783.85 209.36 L783.87 208.92 L783.89 208.48 L783.91 208.03 L783.93 207.59 L783.95 207.15 L783.97 206.71 L783.98 206.26 L784.01 205.82 L784.03 205.38 L784.05 204.94 L784.07 204.49 L784.09 204.05 L784.11 203.61 L784.13 203.16 L784.15 202.72 L784.18 202.28 L784.20 201.83 L784.22 201.39 L784.25 200.94 L784.27 200.50 L784.30 200.05 L784.32 199.61 L784.35 199.16 L784.37 198.72 L784.40 198.27 L784.43 197.82 L784.45 197.38 L784.48 196.93 L784.51 196.48 L784.54 196.03 L784.57 195.59 L784.60 195.14 L784.63 194.69 L784.66 194.24 L784.69 193.79 L784.72 193.34 L784.75 192.89 L784.78 192.44 L784.82 191.99 L784.85 191.53 L784.89 191.08 L784.92 190.63 L784.96 190.17 L784.99 189.72 L785.03 189.27 L785.07 188.81 L785.11 188.36 L785.14 187.90 L785.18 187.44 L785.22 186.99 L785.27 186.53 L785.31 186.07 L785.35 185.61 L785.39 185.15 L785.44 184.69 L785.48 184.23 L785.52 183.77 L785.57 183.31 L785.62 182.85 L785.66 182.39 L785.71 181.92 L785.76 181.46 L785.81 180.99 L785.86 180.53 L785.91 180.06 L785.96 179.60 L786.02 179.13 L786.07 178.66 L786.13 178.19 L786.18 177.72 L786.24 177.25 L786.29 176.78 L786.35 176.31 L786.41 175.84 L786.47 175.37 L786.54 174.90 L786.61 174.43 L786.68 173.96 L786.75 173.50 L786.83 173.04 L786.92 172.58 L787.01 172.13 L787.11 171.68 L787.22 171.24 L787.33 170.81 L787.45 170.38 L787.58 169.96 L787.72 169.54 L787.87 169.13 L788.03 168.74 L788.20 168.35 L788.38 167.97 L788.57 167.60 L788.77 167.24 L788.99 166.89 L789.22 166.56 L789.47 166.24 L789.72 165.93 L790.00 165.63 L790.29 165.35 L790.59 165.08 L790.91 164.83 L791.24 164.58 L791.59 164.36 L791.95 164.14 L792.32 163.93 L792.69 163.74 L793.08 163.56 L793.48 163.39 L793.89 163.23 L794.31 163.07 L794.73 162.93 L795.15 162.80 L795.59 162.68 L796.03 162.56 L796.47 162.45 L796.91 162.35 L797.36 162.26 L797.81 162.18 L798.26 162.10 L798.71 162.02 L799.16 161.95 L799.61 161.89 L800.06 161.84 L800.51 161.78 L800.96 161.74 L801.41 161.70 L801.86 161.66 L802.31 161.63 L802.75 161.60 L803.20 161.58 L803.65 161.57 L804.10 161.55 L804.54 161.55 L804.99 161.54 L805.44 161.54 L805.88 161.55 L806.33 161.55 L806.78 161.57 L807.22 161.58 L807.67 161.60 L808.11 161.63 L808.56 161.65 L809.00 161.68 L809.45 161.71 L809.89 161.75 L810.34 161.79 L810.78 161.83 L811.22 161.88 L811.67 161.92 L812.11 161.97 L812.55 162.03 L813.00 162.08 L813.44 162.14 L813.89 162.20 L814.33 162.26 L814.77 162.32 L815.21 162.39 L815.66 162.45 L816.10 162.52 L816.54 162.59 L816.99 162.66 L817.43 162.73 L817.87 162.81 L818.31 162.88 L818.76 162.96 L819.20 163.03 L819.64 163.11 L820.08 163.19 L820.52 163.27 L820.97 163.35 L821.41 163.43 L821.85 163.50 L822.29 163.58 L822.74 163.66 L823.18 163.74 L823.62 163.82 L824.06 163.90 L824.51 163.98 L824.95 164.06 L825.39 164.13 L825.83 164.21 L826.28 164.29 L826.72 164.36 L827.16 164.44 L827.60 164.52 L828.05 164.59 L828.49 164.67 L828.93 164.74 L829.38 164.82 L829.82 164.89 L830.26 164.96 L830.70 165.04 L831.15 165.11 L831.59 165.18 L832.03 165.25 L832.48 165.33 L832.92 165.40 L833.36 165.47 L833.81 165.54 L834.25 165.61 L834.69 165.68 L835.14 165.75 L835.58 165.82 L836.02 165.89 L836.47 165.96 L836.91 166.03 L837.35 166.10 L837.80 166.17 L838.24 166.24 L838.68 166.30 L839.13 166.37 L839.57 166.44 L840.01 166.50 L840.46 166.57 L840.90 166.64 L841.35 166.70 L841.79 166.77 L842.23 166.83 L842.68 166.90 L843.12 166.96 L843.56 167.03 L844.01 167.09 L844.45 167.16 L844.90 167.22 L845.34 167.28 L845.78 167.35 L846.23 167.41 L846.67 167.47 L847.12 167.53 L847.56 167.59 L848.01 167.66 L848.45 167.72 L848.89 167.78 L849.34 167.84 L849.78 167.90 L850.23 167.96 L850.67 168.02 L851.12 168.08 L851.56 168.14 L852.00 168.20 L852.45 168.26 L852.89 168.31 L853.34 168.37 L853.78 168.43 L854.23 168.49 L854.67 168.55 L855.12 168.60 L855.56 168.66 L856.01 168.72 L856.45 168.77 L856.89 168.83 L857.34 168.88 L857.78 168.94 L858.23 169.00 L858.67 169.05 L859.12 169.10 L859.56 169.16 L860.01 169.21 L860.45 169.27 L860.90 169.32 L861.34 169.38 L861.79 169.43 L862.23 169.48 L862.68 169.53 L863.12 169.59 L863.57 169.64 L864.01 169.69 L864.46 169.74 L864.90 169.80 L865.35 169.85 L865.79 169.90 L866.24 169.95 L866.69 170.00 L867.13 170.05 L867.58 170.10 L868.02 170.15 L868.47 170.20 L868.91 170.25 L869.36 170.30 L869.80 170.35 L870.25 170.40 L870.69 170.45 L871.14 170.50 L871.58 170.54 L872.03 170.59 L872.48 170.64 L872.92 170.69 L873.37 170.73 L873.81 170.78 L874.26 170.83 L874.70 170.88 L875.15 170.92 L875.60 170.97 L876.04 171.02 L876.49 171.06 L876.93 171.11 L877.38 171.15 L877.82 171.20 L878.27 171.24 L878.72 171.29 L879.16 171.33 L879.61 171.38 L880.05 171.42 L880.50 171.47 L880.95 171.51 L881.39 171.55 L881.84 171.60 L882.28 171.64 L882.73 171.68 L883.18 171.73 L883.62 171.77 L884.07 171.81 L884.51 171.86 L884.96 171.90 L885.41 171.94 L885.85 171.98 L886.30 172.02 L886.74 172.07 L887.19 172.11 L887.64 172.15 L888.08 172.19 L888.53 172.23 L888.98 172.27 L889.42 172.31 L889.87 172.35 L890.31 172.39 L890.76 172.43 L891.21 172.47 L891.65 172.51 L892.10 172.55 L892.55 172.59 L892.99 172.63 L893.44 172.67 L893.89 172.71 L894.33 172.75 L894.78 172.79 L895.23 172.83 L895.67 172.87 L896.12 172.90 L896.56 172.94 L897.01 172.98 L897.46 173.02 L897.90 173.06 L898.35 173.09 L898.80 173.13 L899.24 173.17 L899.69 173.21 L900.14 173.24 L900.58 173.28 L901.03 173.32 L901.48 173.35 L901.92 173.39 L902.37 173.43 L902.82 173.46 L903.26 173.50 L903.71 173.53 L904.16 173.57 L904.61 173.61 L905.05 173.64 L905.50 173.68 L905.95 173.71 L906.39 173.75 L906.84 173.78 L907.29 173.82 L907.73 173.85 L908.18 173.89 L908.63 173.92 L909.07 173.96 L909.52 173.99 L909.97 174.03 L910.41 174.06 L910.86 174.09 L911.31 174.13 L911.76 174.16 L912.20 174.20 L912.65 174.23 L913.10 174.26 L913.54 174.30 L913.99 174.33 L914.44 174.36 L914.88 174.40 L915.33 174.43 L915.78 174.46 L916.23 174.50 L916.67 174.53 L917.12 174.56 L917.57 174.60 L918.01 174.63 L918.46 174.66 L918.91 174.69 L919.36 174.73 L919.80 174.76 L920.25 174.79 L920.70 174.82 L921.14 174.85 L921.59 174.89 L922.04 174.92 L922.49 174.95 L922.93 174.98 L923.38 175.01 L923.83 175.04 L924.27 175.08 L924.72 175.11 L925.17 175.14 L925.62 175.17 L926.06 175.20 L926.51 175.23 L926.96 175.26 L927.40 175.30 L927.85 175.33 L928.30 175.36 L928.75 175.39 L929.19 175.42 L929.64 175.45 L930.09 175.48 L930.54 175.51 L930.98 175.54 L931.43 175.57 L931.88 175.60 L932.32 175.63 L932.77 175.66 L933.22 175.69 L933.67 175.73 L934.11 175.76 L934.56 175.79 L935.01 175.82 L935.46 175.85 L935.90 175.88 L936.35 175.91 L936.80 175.94 L937.25 175.97 L937.69 176.00 L938.14 176.03 L938.59 176.06 L939.03 176.09 L939.48 176.12 L939.93 176.15 L940.38 176.18 L940.82 176.21 L941.27 176.24 L941.72 176.27 L942.17 176.30 L942.61 176.33 L943.06 176.36 L943.51 176.39 L943.96 176.42 L944.40 176.44 L944.85 176.47 L945.30 176.50 L945.75 176.53 L946.19 176.56 L946.64 176.59 L947.09 176.62 L947.54 176.65 L947.98 176.68 L948.43 176.71 L948.88 176.74 L949.32 176.77 L949.77 176.80 L950.22 176.83 L950.67 176.86 L951.11 176.89 L951.56 176.92 L952.01 176.95 L952.46 176.98 L952.90 177.01 L953.35 177.04 L953.80 177.07 L954.25 177.10 L954.69 177.13 L955.14 177.16 L955.59 177.19 L956.04 177.22 L956.48 177.25 L956.93 177.28 L957.38 177.31 L957.82 177.34 L958.27 177.37 L958.72 177.40 L959.17 177.43 L959.61 177.46 L960.06 177.49 L960.51 177.52 L960.96 177.55 L961.40 177.58 L961.85 177.61 L962.30 177.64 L962.75 177.67 L963.19 177.70 L963.64 177.73 L964.09 177.76 L964.53 177.79 L964.98 177.82 L965.43 177.85 L965.88 177.88 L966.32 177.91 L966.77 177.94 L967.22 177.97 L967.67 178.00 L968.11 178.03 L968.56 178.07 L969.01 178.10 L969.45 178.13 L969.90 178.16 L970.35 178.19 L970.80 178.22 L971.24 178.25 L971.69 178.28 L972.14 178.31 L972.58 178.35 L973.03 178.38 L973.48 178.41 L973.93 178.44 L974.37 178.47 L974.82 178.50 L975.27 178.54 L975.71 178.57 L976.16 178.60 L976.61 178.63 L977.06 178.66 L977.50 178.70 L977.95 178.73 L978.40 178.76 L978.84 178.79 L979.29 178.83 L979.74 178.86 L980.19 178.89 L980.63 178.92 L981.08 178.96 L981.53 178.99 L981.97 179.02 L982.42 179.06 L982.87 179.09 L983.31 179.12 L983.76 179.16 L984.21 179.19 L984.66 179.22 L985.10 179.26 L985.55 179.29 L986.00 179.33 L986.44 179.36 L986.89 179.39 L987.34 179.43 L987.78 179.46 L988.23 179.50 L988.68 179.53 L989.12 179.57 L989.57 179.60 L990.02 179.64 L990.46 179.67 L990.91 179.71 L991.36 179.74 L991.80 179.78 L992.25 179.81 L992.70 179.85 L993.14 179.88 L993.59 179.92 L994.04 179.96 L994.48 179.99 L994.93 180.03 L995.38 180.07 L995.82 180.10 L996.27 180.14 L996.72 180.18 L997.16 180.21 L997.61 180.25 L998.06 180.29 L998.50 180.32 L998.95 180.36 L999.40 180.40 L999.84 180.44 L1000.29 180.48 L1000.74 180.51 L1001.18 180.55 L1001.63 180.59 L1002.08 180.63 L1002.52 180.67 L1002.97 180.71 L1003.42 180.74 L1003.86 180.78 L1004.31 180.82 L1004.75 180.86 L1005.20 180.90 L1005.65 180.94 L1006.09 180.98 L1006.54 181.02 L1006.99 181.06" stroke="#3b59cc" stroke-width="3.2"/>
<path d="M606.47 114.00 L606.86 114.23 L607.26 114.45 L607.66 114.68 L608.05 114.90 L608.45 115.12 L608.84 115.34 L609.24 115.57 L609.63 115.79 L610.03 116.01 L610.42 116.23 L610.82 116.45 L611.21 116.68 L611.60 116.90 L612.00 117.12 L612.39 117.34 L612.78 117.56 L613.18 117.78 L613.57 118.00 L613.96 118.22 L614.35 118.44 L614.74 118.65 L615.14 118.87 L615.53 119.09 L615.92 119.31 L616.31 119.53 L616.70 119.74 L617.09 119.96 L617.48 120.18 L617.87 120.39 L618.26 120.61 L618.65 120.83 L619.04 121.04 L619.43 121.26 L619.82 121.47 L620.21 121.69 L620.60 121.90 L620.99 122.12 L621.38 122.33 L621.77 122.55 L622.16 122.76 L622.55 122.97 L622.94 123.19 L623.33 123.40 L623.71 123.61 L624.10 123.83 L624.49 124.04 L624.88 124.25 L625.27 124.46 L625.66 124.67 L626.04 124.88 L626.43 125.10 L626.82 125.31 L627.21 125.52 L627.60 125.73 L627.98 125.94 L628.37 126.15 L628.76 126.35 L629.15 126.56 L629.54 126.77 L629.92 126.98 L630.31 127.19 L630.70 127.40 L631.09 127.60 L631.47 127.81 L631.86 128.02 L632.25 128.23 L632.64 128.43 L633.02 128.64 L633.41 128.84 L633.80 129.05 L634.19 129.26 L634.57 129.46 L634.96 129.67 L635.35 129.87 L635.74 130.07 L636.13 130.28 L636.51 130.48 L636.90 130.69 L637.29 130.89 L637.68 131.09 L638.07 131.30 L638.45 131.50 L638.84 131.70 L639.23 131.90 L639.62 132.10 L640.01 132.31 L640.40 132.51 L640.79 132.71 L641.18 132.91 L641.56 133.11 L641.95 133.31 L642.34 133.51 L642.73 133.71 L643.12 133.91 L643.51 134.11 L643.90 134.30 L644.29 134.50 L644.68 134.70 L645.07 134.90 L645.46 135.10 L645.85 135.29 L646.24 135.49 L646.63 135.69 L647.02 135.88 L647.42 136.08 L647.81 136.28 L648.20 136.47 L648.59 136.67 L648.98 136.86 L649.37 137.06 L649.77 137.25 L650.16 137.45 L650.55 137.64 L650.94 137.83 L651.34 138.03 L651.73 138.22 L652.12 138.41 L652.52 138.60 L652.91 138.80 L653.31 138.99 L653.70 139.18 L654.10 139.37 L654.49 139.56 L654.89 139.75 L655.28 139.95 L655.68 140.14 L656.07 140.33 L656.47 140.52 L656.87 140.70 L657.26 140.89 L657.66 141.08 L658.06 141.27 L658.46 141.46 L658.85 141.65 L659.25 141.84 L659.65 142.02 L660.05 142.21 L660.45 142.40 L660.85 142.58 L661.25 142.77 L661.65 142.96 L662.05 143.14 L662.45 143.33 L662.85 143.51 L663.26 143.70 L663.66 143.88 L664.06 144.07 L664.46 144.25 L664.87 144.44 L665.27 144.62 L665.67 144.80 L666.08 144.99 L666.48 145.17 L666.89 145.35 L667.29 145.53 L667.70 145.72 L668.11 145.90 L668.51 146.08 L668.92 146.26 L669.33 146.44 L669.73 146.62 L670.14 146.80 L670.55 146.98 L670.96 147.16 L671.37 147.34 L671.78 147.52 L672.19 147.70 L672.60 147.88 L673.01 148.05 L673.43 148.23 L673.84 148.41 L674.25 148.59 L674.66 148.77 L675.08 148.94 L675.49 149.12 L675.91 149.30 L676.32 149.47 L676.74 149.65 L677.15 149.82 L677.57 150.00 L677.98 150.18 L678.40 150.35 L678.81 150.53 L679.23 150.70 L679.65 150.88 L680.06 151.06 L680.48 151.23 L680.90 151.41 L681.32 151.58 L681.73 151.76 L682.15 151.94 L682.57 152.11 L682.99 152.29 L683.40 152.46 L683.82 152.64 L684.24 152.82 L684.66 153.00 L685.07 153.17 L685.49 153.35 L685.91 153.53 L686.32 153.71 L686.74 153.88 L687.16 154.06 L687.57 154.24 L687.99 154.42 L688.41 154.60 L688.82 154.78 L689.24 154.96 L689.65 155.14 L690.07 155.33 L690.48 155.51 L690.90 155.69 L691.31 155.87 L691.73 156.06 L692.14 156.24 L692.55 156.43 L692.97 156.61 L693.38 156.80 L693.79 156.98 L694.20 157.17 L694.61 157.36 L695.02 157.55 L695.43 157.74 L695.84 157.93 L696.25 158.12 L696.66 158.31 L697.06 158.50 L697.47 158.69 L697.88 158.89 L698.28 159.08 L698.69 159.28 L699.09 159.47 L699.49 159.67 L699.90 159.87 L700.30 160.07 L700.70 160.27 L701.10 160.47 L701.50 160.67 L701.90 160.87 L702.29 161.08 L702.69 161.28 L703.09 161.49 L703.48 161.69 L703.88 161.90 L704.27 162.11 L704.66 162.32 L705.05 162.53 L705.44 162.74 L705.83 162.96 L706.22 163.17 L706.61 163.39 L706.99 163.61 L707.38 163.83 L707.76 164.05 L708.14 164.27 L708.52 164.49 L708.90 164.71 L709.28 164.94 L709.66 165.16 L710.04 165.39 L710.41 165.62 L710.79 165.85 L711.16 166.09 L711.53 166.32 L711.90 166.55 L712.27 166.79 L712.64 167.03 L713.00 167.27 L713.37 167.51 L713.73 167.75 L714.09 168.00 L714.45 168.24 L714.81 168.49 L715.17 168.74 L715.52 168.99 L715.88 169.24 L716.23 169.50 L716.58 169.75 L716.93 170.01 L717.28 170.27 L717.62 170.53 L717.97 170.80 L718.31 171.06 L718.65 171.33 L718.99 171.60 L719.33 171.87 L719.67 172.14 L720.00 172.41 L720.33 172.69 L720.66 172.97 L720.99 173.25 L721.32 173.53 L721.64 173.81 L721.97 174.10 L722.29 174.39 L722.61 174.68 L722.92 174.97 L723.24 175.27 L723.55 175.56 L723.86 175.86 L724.17 176.16 L724.48 176.46 L724.79 176.77 L725.09 177.08 L725.39 177.39 L725.69 177.70 L725.99 178.01 L726.28 178.33 L726.57 178.65 L726.86 178.97 L727.15 179.29 L727.44 179.62 L727.72 179.95 L728.00 180.28 L728.28 180.61 L728.56 180.94 L728.84 181.28 L729.11 181.62 L729.38 181.96 L729.65 182.30 L729.92 182.65 L730.18 182.99 L730.44 183.34 L730.70 183.70 L730.96 184.05 L731.22 184.40 L731.47 184.76 L731.72 185.12 L731.97 185.48 L732.22 185.84 L732.47 186.21 L732.71 186.58 L732.95 186.94 L733.19 187.31 L733.43 187.69 L733.66 188.06 L733.90 188.43 L734.13 188.81 L734.36 189.19 L734.59 189.57 L734.81 189.95 L735.04 190.33 L735.26 190.72 L735.48 191.10 L735.70 191.49 L735.91 191.88 L736.13 192.27 L736.34 192.66 L736.55 193.06 L736.76 193.45 L736.96 193.85 L737.17 194.25 L737.37 194.64 L737.57 195.04 L737.77 195.45 L737.97 195.85 L738.16 196.25 L738.35 196.66 L738.55 197.06 L738.74 197.47 L738.92 197.88 L739.11 198.29 L739.29 198.70 L739.48 199.11 L739.66 199.52 L739.84 199.93 L740.01 200.35 L740.19 200.76 L740.36 201.18 L740.53 201.59 L740.70 202.01 L740.87 202.43 L741.04 202.85 L741.20 203.27 L741.37 203.69 L741.53 204.11 L741.69 204.53 L741.85 204.95 L742.00 205.38 L742.16 205.80 L742.31 206.22 L742.46 206.65 L742.61 207.07 L742.76 207.50 L742.90 207.93 L743.05 208.35 L743.19 208.78 L743.33 209.21 L743.47 209.64 L743.61 210.06 L743.75 210.49 L743.88 210.92 L744.02 211.35 L744.15 211.78 L744.28 212.21 L744.41 212.64 L744.54 213.07 L744.66 213.50 L744.79 213.93 L744.91 214.36 L745.03 214.79 L745.15 215.22 L745.27 215.66 L745.39 216.09 L745.50 216.52 L745.62 216.95 L745.73 217.38 L745.84 217.81 L745.95 218.25 L746.06 218.68 L746.17 219.11 L746.28 219.54 L746.38 219.98 L746.49 220.41 L746.59 220.84 L746.69 221.28 L746.79 221.71 L746.89 222.14 L746.99 222.58 L747.09 223.01 L747.18 223.45 L747.28 223.88 L747.37 224.31 L747.46 224.75 L747.56 225.18 L747.65 225.62 L747.74 226.05 L747.83 226.49 L747.91 226.92 L748.00 227.36 L748.09 227.79 L748.17 228.23 L748.26 228.66 L748.34 229.10 L748.42 229.53 L748.51 229.97 L748.59 230.40 L748.67 230.84 L748.75 231.27 L748.83 231.71 L748.91 232.15 L748.98 232.58 L749.06 233.02 L749.14 233.45 L749.21 233.89 L749.29 234.33 L749.36 234.76 L749.43 235.20 L749.51 235.63 L749.58 236.07 L749.65 236.51 L749.72 236.94 L749.80 237.38 L749.87 237.82 L749.94 238.25 L750.01 238.69 L750.08 239.13 L750.15 239.56 L750.21 240.00 L750.28 240.44 L750.35 240.87 L750.42 241.31 L750.49 241.75 L750.55 242.18 L750.62 242.62 L750.69 243.06 L750.75 243.49 L750.82 243.93 L750.88 244.37 L750.95 244.80 L751.02 245.24 L751.08 245.67 L751.15 246.11 L751.21 246.55 L751.28 246.98 L751.34 247.42 L751.41 247.86 L751.47 248.29 L751.54 248.73 L751.60 249.17 L751.67 249.60 L751.73 250.04 L751.80 250.47 L751.86 250.91 L751.93 251.35 L751.99 251.78 L752.06 252.22 L752.13 252.65 L752.19 253.09 L752.26 253.52 L752.33 253.96 L752.39 254.40 L752.46 254.83 L752.53 255.27 L752.59 255.70 L752.66 256.14 L752.73 256.57 L752.80 257.01 L752.87 257.44 L752.94 257.88 L753.01 258.31 L753.08 258.75 L753.15 259.18 L753.22 259.61 L753.29 260.05 L753.36 260.48 L753.43 260.92 L753.51 261.35 L753.58 261.78 L753.65 262.22 L753.73 262.65 L753.80 263.09 L753.88 263.52 L753.95 263.95 L754.03 264.39 L754.10 264.82 L754.18 265.25 L754.25 265.69 L754.33 266.12 L754.41 266.55 L754.49 266.99 L754.56 267.42 L754.64 267.85 L754.72 268.29 L754.80 268.72 L754.88 269.15 L754.96 269.58 L755.04 270.02 L755.12 270.45 L755.21 270.88 L755.29 271.32 L755.37 271.75 L755.45 272.18 L755.54 272.61 L755.62 273.05 L755.71 273.48 L755.79 273.91 L755.87 274.35 L755.96 274.78 L756.05 275.21 L756.13 275.64 L756.22 276.08 L756.31 276.51 L756.40 276.94 L756.48 277.37 L756.57 277.81 L756.66 278.24 L756.75 278.67 L756.84 279.11 L756.93 279.54 L757.02 279.97 L757.11 280.40 L757.21 280.84 L757.30 281.27 L757.39 281.70 L757.48 282.14 L757.58 282.57 L757.67 283.00 L757.77 283.43 L757.86 283.87 L757.96 284.30 L758.05 284.73 L758.15 285.17 L758.25 285.60 L758.35 286.03 L758.44 286.47 L758.54 286.90 L758.64 287.34 L758.74 287.77 L758.84 288.20 L758.94 288.64 L759.04 289.07 L759.14 289.50 L759.25 289.94 L759.35 290.37 L759.45 290.81 L759.56 291.24 L759.66 291.68 L759.76 292.11 L759.87 292.55 L759.97 292.98 L760.08 293.41 L760.19 293.85 L760.29 294.28 L760.40 294.72 L760.51 295.15 L760.62 295.59 L760.73 296.03 L760.84 296.46 L760.95 296.90 L761.06 297.33 L761.17 297.77 L761.28 298.21 L761.39 298.64 L761.51 299.08 L761.62 299.51 L761.73 299.95 L761.85 300.39 L761.96 300.82 L762.08 301.26 L762.19 301.70 L762.31 302.14 L762.43 302.57 L762.54 303.01 L762.66 303.45 L762.78 303.89 L762.90 304.33 L763.02 304.76 L763.14 305.20 L763.26 305.64 L763.38 306.08 L763.50 306.52 L763.63 306.96 L763.75 307.40 L763.87 307.83 L764.00 308.27 L764.13 308.71 L764.26 309.14 L764.40 309.57 L764.54 310.00 L764.68 310.43 L764.83 310.86 L764.98 311.28 L765.13 311.70 L765.29 312.12 L765.45 312.53 L765.62 312.94 L765.80 313.35 L765.98 313.75 L766.17 314.14 L766.37 314.53 L766.57 314.92 L766.78 315.30 L767.00 315.67 L767.23 316.04 L767.46 316.41 L767.71 316.76 L767.96 317.11 L768.22 317.45 L768.49 317.79 L768.78 318.12 L769.07 318.43 L769.38 318.75 L769.69 319.05 L770.02 319.34 L770.35 319.61 L770.69 319.87 L771.03 320.11 L771.37 320.31 L771.72 320.49 L772.06 320.63 L772.40 320.74 L772.73 320.80 L773.05 320.82 L773.37 320.79 L773.67 320.71 L773.97 320.59 L774.25 320.42 L774.52 320.21 L774.77 319.97 L775.02 319.70 L775.24 319.40 L775.46 319.07 L775.66 318.73 L775.85 318.37 L776.02 317.99 L776.18 317.60 L776.32 317.20 L776.45 316.79 L776.57 316.37 L776.68 315.94 L776.78 315.50 L776.88 315.05 L776.96 314.60 L777.04 314.14 L777.12 313.68 L777.19 313.22 L777.25 312.75 L777.32 312.28 L777.38 311.81 L777.44 311.35 L777.50 310.88 L777.56 310.41 L777.62 309.95 L777.68 309.48 L777.74 309.02 L777.80 308.56 L777.86 308.09 L777.92 307.63 L777.97 307.17 L778.03 306.71 L778.08 306.25 L778.14 305.79 L778.19 305.33 L778.25 304.87 L778.30 304.42 L778.35 303.96 L778.41 303.50 L778.46 303.05 L778.51 302.59 L778.56 302.14 L778.61 301.68 L778.66 301.23 L778.71 300.78 L778.76 300.32 L778.81 299.87 L778.86 299.42 L778.91 298.97 L778.95 298.52 L779.00 298.07 L779.05 297.62 L779.09 297.17 L779.14 296.72 L779.18 296.27 L779.23 295.83 L779.27 295.38 L779.32 294.93 L779.36 294.49 L779.40 294.04 L779.44 293.60 L779.49 293.15 L779.53 292.71 L779.57 292.26 L779.61 291.82 L779.65 291.38 L779.69 290.93 L779.73 290.49 L779.77 290.05 L779.81 289.61 L779.85 289.16 L779.89 288.72 L779.93 288.28 L779.96 287.84 L780.00 287.40 L780.04 286.96 L780.08 286.52 L780.11 286.08 L780.15 285.64 L780.18 285.20 L780.22 284.76 L780.25 284.32 L780.29 283.89 L780.32 283.45 L780.36 283.01 L780.39 282.57 L780.43 282.13 L780.46 281.70 L780.49 281.26 L780.53 280.82 L780.56 280.38 L780.59 279.95 L780.62 279.51 L780.65 279.07 L780.69 278.64 L780.72 278.20 L780.75 277.77 L780.78 277.33 L780.81 276.89 L780.84 276.46 L780.87 276.02 L780.90 275.59 L780.93 275.15 L780.96 274.71 L780.99 274.28 L781.02 273.84 L781.05 273.41 L781.08 272.97 L781.10 272.54 L781.13 272.10 L781.16 271.66 L781.19 271.23 L781.22 270.79 L781.24 270.36 L781.27 269.92 L781.30 269.49 L781.33 269.05 L781.35 268.61 L781.38 268.18 L781.41 267.74 L781.43 267.31 L781.46 266.87 L781.49 266.43 L781.51 266.00 L781.54 265.56 L781.56 265.12 L781.59 264.69 L781.62 264.25 L781.64 263.81 L781.67 263.37 L781.69 262.94 L781.72 262.50 L781.74 262.06 L781.77 261.62 L781.79 261.18 L781.82 260.74 L781.85 260.31 L781.87 259.87 L781.90 259.43 L781.92 258.99 L781.94 258.55 L781.97 258.11 L781.99 257.67 L782.02 257.23 L782.04 256.79 L782.07 256.35 L782.09 255.90 L782.12 255.46 L782.14 255.02 L782.17 254.58 L782.19 254.14 L782.22 253.69 L782.24 253.25 L782.26 252.81 L782.29 252.37 L782.31 251.92 L782.34 251.48 L782.36 251.04 L782.39 250.59 L782.41 250.15 L782.43 249.71 L782.46 249.26 L782.48 248.82 L782.51 248.38 L782.53 247.93 L782.55 247.49 L782.58 247.04 L782.60 246.60 L782.63 246.15 L782.65 245.71 L782.67 245.26 L782.70 244.82 L782.72 244.37 L782.74 243.93 L782.77 243.48 L782.79 243.04 L782.82 242.59 L782.84 242.14 L782.86 241.70 L782.89 241.25 L782.91 240.81 L782.93 240.36 L782.96 239.91 L782.98 239.47 L783.01 239.02 L783.03 238.58 L783.05 238.13 L783.08 237.68 L783.10 237.24 L783.13 236.79 L783.15 236.34 L783.17 235.90 L783.20 235.45 L783.22 235.00 L783.24 234.56 L783.27 234.11 L783.29 233.66 L783.32 233.22 L783.34 232.77 L783.36 232.33 L783.39 231.88 L783.41 231.43 L783.44 230.99 L783.46 230.54 L783.48 230.09 L783.51 229.65 L783.53 229.20 L783.56 228.75 L783.58 228.31 L783.60 227.86 L783.63 227.41 L783.65 226.97 L783.68 226.52 L783.70 226.07 L783.73 225.63 L783.75 225.18 L783.78 224.74 L783.80 224.29 L783.82 223.85 L783.85 223.40 L783.87 222.95 L783.90 222.51 L783.92 222.06 L783.95 221.62 L783.97 221.17 L784.00 220.73 L784.02 220.28 L784.05 219.84 L784.07 219.39 L784.10 218.95 L784.12 218.50 L784.15 218.06 L784.17 217.61 L784.20 217.17 L784.23 216.73 L784.25 216.28 L784.28 215.84 L784.30 215.39 L784.33 214.95 L784.35 214.51 L784.38 214.06 L784.41 213.62 L784.43 213.18 L784.46 212.74 L784.48 212.29 L784.51 211.85 L784.54 211.41 L784.56 210.97 L784.59 210.53 L784.62 210.08 L784.64 209.64 L784.67 209.20 L784.70 208.76 L784.72 208.32 L784.75 207.88 L784.78 207.44 L784.80 207.00 L784.83 206.56 L784.86 206.12 L784.89 205.68 L784.91 205.24 L784.94 204.80 L784.97 204.37 L785.00 203.93 L785.02 203.49 L785.05 203.05 L785.08 202.61 L785.11 202.18 L785.14 201.74 L785.17 201.30 L785.19 200.87 L785.22 200.43 L785.25 199.99 L785.28 199.56 L785.31 199.12 L785.34 198.69 L785.37 198.25 L785.40 197.82 L785.43 197.38 L785.47 196.95 L785.50 196.51 L785.53 196.08 L785.57 195.64 L785.60 195.21 L785.64 194.77 L785.67 194.34 L785.71 193.91 L785.75 193.47 L785.79 193.04 L785.83 192.60 L785.87 192.17 L785.91 191.73 L785.96 191.30 L786.00 190.86 L786.05 190.43 L786.10 189.99 L786.14 189.56 L786.20 189.12 L786.25 188.68 L786.30 188.25 L786.35 187.81 L786.41 187.37 L786.47 186.94 L786.53 186.50 L786.59 186.06 L786.65 185.62 L786.72 185.18 L786.78 184.74 L786.85 184.31 L786.92 183.87 L787.00 183.43 L787.07 182.98 L787.15 182.54 L787.23 182.10 L787.31 181.66 L787.39 181.22 L787.48 180.77 L787.56 180.33 L787.66 179.89 L787.75 179.44 L787.84 179.00 L787.94 178.55 L788.04 178.10 L788.14 177.66 L788.25 177.21 L788.36 176.76 L788.47 176.31 L788.58 175.86 L788.70 175.41 L788.82 174.96 L788.94 174.51 L789.07 174.06 L789.20 173.61 L789.33 173.16 L789.47 172.72 L789.62 172.28 L789.77 171.84 L789.93 171.40 L790.09 170.97 L790.25 170.55 L790.43 170.13 L790.61 169.71 L790.80 169.31 L790.99 168.90 L791.20 168.51 L791.41 168.12 L791.62 167.74 L791.85 167.37 L792.09 167.01 L792.33 166.66 L792.59 166.32 L792.85 165.99 L793.13 165.67 L793.41 165.36 L793.70 165.07 L794.01 164.78 L794.33 164.51 L794.65 164.26 L794.99 164.01 L795.35 163.78 L795.71 163.57 L796.08 163.37 L796.46 163.18 L796.86 163.00 L797.26 162.84 L797.67 162.69 L798.08 162.54 L798.51 162.41 L798.93 162.29 L799.37 162.18 L799.81 162.08 L800.25 161.98 L800.70 161.90 L801.15 161.82 L801.60 161.75 L802.05 161.68 L802.51 161.62 L802.96 161.57 L803.41 161.52 L803.87 161.48 L804.32 161.44 L804.77 161.41 L805.22 161.38 L805.67 161.36 L806.12 161.34 L806.57 161.32 L807.02 161.31 L807.47 161.31 L807.92 161.30 L808.36 161.31 L808.81 161.31 L809.26 161.32 L809.70 161.34 L810.15 161.35 L810.59 161.37 L811.03 161.40 L811.48 161.42 L811.92 161.46 L812.36 161.49 L812.81 161.53 L813.25 161.57 L813.69 161.61 L814.13 161.66 L814.57 161.70 L815.01 161.76 L815.45 161.81 L815.89 161.87 L816.33 161.92 L816.77 161.98 L817.21 162.05 L817.65 162.11 L818.08 162.18 L818.52 162.25 L818.96 162.32 L819.40 162.39 L819.83 162.46 L820.27 162.54 L820.71 162.62 L821.14 162.69 L821.58 162.77 L822.02 162.85 L822.45 162.93 L822.89 163.02 L823.32 163.10 L823.76 163.18 L824.20 163.27 L824.63 163.35 L825.07 163.44 L825.50 163.52 L825.94 163.61 L826.37 163.69 L826.81 163.78 L827.24 163.87 L827.68 163.95 L828.12 164.04 L828.55 164.12 L828.99 164.21 L829.42 164.29 L829.86 164.38 L830.29 164.46 L830.73 164.54 L831.17 164.62 L831.60 164.71 L832.04 164.78 L832.48 164.86 L832.91 164.94 L833.35 165.02 L833.79 165.09 L834.22 165.16 L834.66 165.23 L835.10 165.30 L835.54 165.37 L835.97 165.44 L836.41 165.50 L836.85 165.57 L837.29 165.63 L837.73 165.69 L838.17 165.75 L838.61 165.80 L839.05 165.86 L839.49 165.92 L839.93 165.97 L840.37 166.02 L840.81 166.07 L841.25 166.12 L841.69 166.17 L842.13 166.22 L842.57 166.27 L843.01 166.32 L843.45 166.36 L843.89 166.41 L844.33 166.45 L844.77 166.50 L845.21 166.54 L845.66 166.58 L846.10 166.63 L846.54 166.67 L846.98 166.71 L847.42 166.75 L847.86 166.79 L848.31 166.83 L848.75 166.87 L849.19 166.91 L849.63 166.96 L850.07 167.00 L850.51 167.04 L850.96 167.08 L851.40 167.12 L851.84 167.16 L852.28 167.20 L852.72 167.24 L853.16 167.28 L853.61 167.32 L854.05 167.36 L854.49 167.40 L854.93 167.44 L855.37 167.48 L855.81 167.52 L856.26 167.56 L856.70 167.60 L857.14 167.64 L857.58 167.68 L858.02 167.72 L858.46 167.76 L858.91 167.80 L859.35 167.84 L859.79 167.88 L860.23 167.92 L860.67 167.96 L861.11 168.00 L861.56 168.04 L862.00 168.08 L862.44 168.12 L862.88 168.16 L863.32 168.20 L863.76 168.24 L864.21 168.28 L864.65 168.32 L865.09 168.36 L865.53 168.40 L865.97 168.44 L866.41 168.48 L866.86 168.52 L867.30 168.56 L867.74 168.60 L868.18 168.64 L868.62 168.68 L869.06 168.72 L869.51 168.76 L869.95 168.79 L870.39 168.83 L870.83 168.87 L871.27 168.91 L871.71 168.95 L872.16 168.99 L872.60 169.03 L873.04 169.07 L873.48 169.11 L873.92 169.15 L874.36 169.19 L874.81 169.23 L875.25 169.27 L875.69 169.31 L876.13 169.35 L876.57 169.39 L877.01 169.43 L877.46 169.47 L877.90 169.51 L878.34 169.55 L878.78 169.59 L879.22 169.62 L879.66 169.66 L880.11 169.70 L880.55 169.74 L880.99 169.78 L881.43 169.82 L881.87 169.86 L882.31 169.90 L882.76 169.94 L883.20 169.98 L883.64 170.02 L884.08 170.06 L884.52 170.09 L884.96 170.13 L885.41 170.17 L885.85 170.21 L886.29 170.25 L886.73 170.29 L887.17 170.33 L887.61 170.37 L888.06 170.41 L888.50 170.44 L888.94 170.48 L889.38 170.52 L889.82 170.56 L890.26 170.60 L890.71 170.64 L891.15 170.68 L891.59 170.72 L892.03 170.75 L892.47 170.79 L892.91 170.83 L893.36 170.87 L893.80 170.91 L894.24 170.95 L894.68 170.98 L895.12 171.02 L895.56 171.06 L896.01 171.10 L896.45 171.14 L896.89 171.18 L897.33 171.21 L897.77 171.25 L898.21 171.29 L898.66 171.33 L899.10 171.37 L899.54 171.40 L899.98 171.44 L900.42 171.48 L900.86 171.52 L901.31 171.56 L901.75 171.59 L902.19 171.63 L902.63 171.67 L903.07 171.71 L903.51 171.74 L903.96 171.78 L904.40 171.82 L904.84 171.86 L905.28 171.89 L905.72 171.93 L906.17 171.97 L906.61 172.01 L907.05 172.04 L907.49 172.08 L907.93 172.12 L908.37 172.16 L908.82 172.19 L909.26 172.23 L909.70 172.27 L910.14 172.30 L910.58 172.34 L911.02 172.38 L911.47 172.41 L911.91 172.45 L912.35 172.49 L912.79 172.53 L913.23 172.56 L913.68 172.60 L914.12 172.64 L914.56 172.67 L915.00 172.71 L915.44 172.74 L915.88 172.78 L916.33 172.82 L916.77 172.85 L917.21 172.89 L917.65 172.93 L918.09 172.96 L918.54 173.00 L918.98 173.03 L919.42 173.07 L919.86 173.11 L920.30 173.14 L920.74 173.18 L921.19 173.21 L921.63 173.25 L922.07 173.29 L922.51 173.32 L922.95 173.36 L923.40 173.39 L923.84 173.43 L924.28 173.46 L924.72 173.50 L925.16 173.54 L925.60 173.57 L926.05 173.61 L926.49 173.64 L926.93 173.68 L927.37 173.71 L927.81 173.75 L928.26 173.78 L928.70 173.82 L929.14 173.85 L929.58 173.89 L930.02 173.92 L930.47 173.96 L930.91 173.99 L931.35 174.03 L931.79 174.06 L932.23 174.09 L932.68 174.13 L933.12 174.16 L933.56 174.20 L934.00 174.23 L934.44 174.27 L934.89 174.30 L935.33 174.33 L935.77 174.37 L936.21 174.40 L936.65 174.44 L937.10 174.47 L937.54 174.50 L937.98 174.54 L938.42 174.57 L938.86 174.61 L939.31 174.64 L939.75 174.67 L940.19 174.71 L940.63 174.74 L941.07 174.77 L941.52 174.81 L941.96 174.84 L942.40 174.87 L942.84 174.91 L943.28 174.94 L943.73 174.97 L944.17 175.00 L944.61 175.04 L945.05 175.07 L945.49 175.10 L945.94 175.14 L946.38 175.17 L946.82 175.20 L947.26 175.23 L947.70 175.27 L948.15 175.30 L948.59 175.33 L949.03 175.36 L949.47 175.39 L949.91 175.43 L950.36 175.46 L950.80 175.49 L951.24 175.52 L951.68 175.55 L952.13 175.58 L952.57 175.62 L953.01 175.65 L953.45 175.68 L953.89 175.71 L954.34 175.74 L954.78 175.77 L955.22 175.80 L955.66 175.84 L956.10 175.87 L956.55 175.90 L956.99 175.93 L957.43 175.96 L957.87 175.99 L958.32 176.02 L958.76 176.05 L959.20 176.08 L959.64 176.11 L960.08 176.14 L960.53 176.17 L960.97 176.20 L961.41 176.23 L961.85 176.26 L962.30 176.29 L962.74 176.32 L963.18 176.35 L963.62 176.38 L964.07 176.41 L964.51 176.44 L964.95 176.47 L965.39 176.50 L965.83 176.53 L966.28 176.56 L966.72 176.59 L967.16 176.62 L967.60 176.65 L968.05 176.68 L968.49 176.70 L968.93 176.73 L969.37 176.76 L969.82 176.79 L970.26 176.82 L970.70 176.85 L971.14 176.88 L971.59 176.90 L972.03 176.93 L972.47 176.96 L972.91 176.99 L973.36 177.02 L973.80 177.05 L974.24 177.07 L974.68 177.10 L975.13 177.13 L975.57 177.16 L976.01 177.18 L976.45 177.21 L976.90 177.24 L977.34 177.27 L977.78 177.29 L978.22 177.32 L978.67 177.35 L979.11 177.37 L979.55 177.40 L979.99 177.43 L980.44 177.45 L980.88 177.48 L981.32 177.51 L981.76 177.53 L982.21 177.56 L982.65 177.58 L983.09 177.61 L983.53 177.64 L983.98 177.66 L984.42 177.69 L984.86 177.71 L985.30 177.74 L985.75 177.77 L986.19 177.79 L986.63 177.82 L987.07 177.84 L987.52 177.87 L987.96 177.89 L988.40 177.92 L988.85 177.94 L989.29 177.97 L989.73 177.99 L990.17 178.02 L990.62 178.04 L991.06 178.06 L991.50 178.09 L991.94 178.11 L992.39 178.14 L992.83 178.16 L993.27 178.18 L993.72 178.21 L994.16 178.23 L994.60 178.26 L995.04 178.28 L995.49 178.30 L995.93 178.33 L996.37 178.35 L996.82 178.37 L997.26 178.40 L997.70 178.42 L998.14 178.44 L998.59 178.46 L999.03 178.49 L999.47 178.51 L999.92 178.53 L1000.36 178.55 L1000.80 178.58 L1001.24 178.60 L1001.69 178.62 L1002.13 178.64 L1002.57 178.66 L1003.02 178.69 L1003.46 178.71 L1003.90 178.73 L1004.35 178.75 L1004.79 178.77 L1005.23 178.79 L1005.67 178.81 L1006.12 178.83 L1006.56 178.86 L1007.00 178.88" stroke="#da4219" stroke-width="3.2" stroke-dasharray="0.00 1.82 14.60 14.34 14.60 15.65 14.60 6.84 14.60 17.34 14.60 16.70 14.60 14.94 14.60 17.37 14.60 17.12 14.60 17.58 14.60 15.04 14.60 17.18 14.60 17.18 14.60 17.18 14.60 16.16 14.60 17.99 14.60 16.98 14.60 17.32 14.60 16.44 14.60 17.32 14.60 16.43 14.60 18.21 14.60 3000.00"/>
</g>
<rect x="606.5" y="47.5" width="400.5" height="322.5" fill="none" stroke="#000" stroke-width="2.1"/>
<path d="M740.00 370 V363.5 M873.50 370 V363.5 M673.25 370 V366.5 M806.75 370 V366.5 M940.25 370 V366.5 M606.5 262.50 H613.0 M606.5 155.00 H613.0 M606.5 316.25 H610.0 M606.5 208.75 H610.0 M606.5 101.25 H610.0 " stroke="#000" stroke-width="2" fill="none"/>
<text transform="translate(599.60,54.20) scale(1,1.08)" class="t" text-anchor="end">&#960;</text>
<text transform="translate(599.60,161.90) scale(1,1.08)" class="t" text-anchor="end">&#960;/2</text>
<text transform="translate(599.60,269.30) scale(1,1.08)" class="t" text-anchor="end">0</text>
<text transform="translate(599.60,376.80) scale(1,1.08)" class="t" text-anchor="end">-&#960;/2</text>
<text transform="translate(606.50,395.70) scale(1,1.08)" class="t" text-anchor="middle">600</text>
<text transform="translate(740.00,395.70) scale(1,1.08)" class="t" text-anchor="middle">700</text>
<text transform="translate(873.50,395.70) scale(1,1.08)" class="t" text-anchor="middle">800</text>
<text transform="translate(1007.00,395.70) scale(1,1.08)" class="t" text-anchor="middle">900</text>
<text x="807.5" y="432.7" class="ti" text-anchor="middle">Wavelength (nm)</text>
<text transform="translate(550,208.3) rotate(-90)" class="ti" text-anchor="middle">Phase</text>
<path d="M863.6 95.9 H913" stroke="#3b59cc" stroke-width="3.2"/>
<path d="M863.6 122.1 H879.3 M895.4 122.1 H911" stroke="#da4219" stroke-width="3.2"/>
<text transform="translate(917.30,103.00) scale(1,1.04)" class="lg" text-anchor="start">FDTD</text>

<text transform="translate(917.30,128.60) scale(1,1.04)" class="lg" text-anchor="start">ICM</text>

</svg>
</body></html>
